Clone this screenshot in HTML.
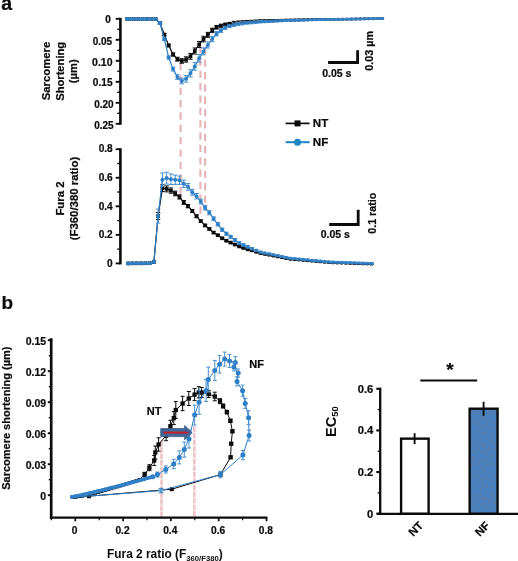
<!DOCTYPE html>
<html><head><meta charset="utf-8"><title>Figure</title>
<style>html,body{margin:0;padding:0;background:#fff}svg{display:block}</style>
</head><body>
<svg width="518" height="561" viewBox="0 0 518 561" style="font-family:&quot;Liberation Sans&quot;,sans-serif" fill="#0b0b0b">
<rect width="518" height="561" fill="#fff"/>
<text x="1.2" y="10.2" font-size="19.5" font-weight="bold" text-anchor="start" stroke="#0b0b0b" stroke-width="0.22" >a</text>
<text x="1.6" y="308.8" font-size="19" font-weight="bold" text-anchor="start" stroke="#0b0b0b" stroke-width="0.22" >b</text>
<line x1="180.60" y1="62.95" x2="180.60" y2="196.00" stroke="#e7b3b6" stroke-width="2.1" stroke-dasharray="7.3 5.05"/>
<line x1="200.40" y1="46.00" x2="200.40" y2="219.00" stroke="#e7b3b6" stroke-width="2.1" stroke-dasharray="7.3 5.05"/>
<line x1="205.05" y1="47.20" x2="205.05" y2="207.00" stroke="#e7b3b6" stroke-width="2.1" stroke-dasharray="7.3 5.05"/>
<line x1="120.40" y1="17.85" x2="120.40" y2="124.75" stroke="#0b0b0b" stroke-width="2.6" />
<line x1="115.70" y1="18.80" x2="120.40" y2="18.80" stroke="#0b0b0b" stroke-width="1.9" />
<line x1="117.30" y1="29.30" x2="120.40" y2="29.30" stroke="#0b0b0b" stroke-width="1.4" />
<text x="110.8" y="23.2" font-size="10.0" font-weight="bold" text-anchor="end" stroke="#0b0b0b" stroke-width="0.22" >0</text>
<line x1="115.70" y1="39.80" x2="120.40" y2="39.80" stroke="#0b0b0b" stroke-width="1.9" />
<line x1="117.30" y1="50.30" x2="120.40" y2="50.30" stroke="#0b0b0b" stroke-width="1.4" />
<text x="112.1" y="44.699999999999996" font-size="10.0" font-weight="bold" text-anchor="end" stroke="#0b0b0b" stroke-width="0.22" >0.05</text>
<line x1="115.70" y1="60.80" x2="120.40" y2="60.80" stroke="#0b0b0b" stroke-width="1.9" />
<line x1="117.30" y1="71.30" x2="120.40" y2="71.30" stroke="#0b0b0b" stroke-width="1.4" />
<text x="112.5" y="66.17999999999999" font-size="10.5" font-weight="bold" text-anchor="end" stroke="#0b0b0b" stroke-width="0.22" >0.10</text>
<line x1="115.70" y1="81.80" x2="120.40" y2="81.80" stroke="#0b0b0b" stroke-width="1.9" />
<line x1="117.30" y1="92.30" x2="120.40" y2="92.30" stroke="#0b0b0b" stroke-width="1.4" />
<text x="112.5" y="86.336" font-size="10.1" font-weight="bold" text-anchor="end" stroke="#0b0b0b" stroke-width="0.22" >0.15</text>
<line x1="115.70" y1="102.80" x2="120.40" y2="102.80" stroke="#0b0b0b" stroke-width="1.9" />
<line x1="117.30" y1="113.30" x2="120.40" y2="113.30" stroke="#0b0b0b" stroke-width="1.4" />
<text x="113.7" y="107.99999999999999" font-size="10.0" font-weight="bold" text-anchor="end" stroke="#0b0b0b" stroke-width="0.22" >0.20</text>
<line x1="115.70" y1="123.80" x2="120.40" y2="123.80" stroke="#0b0b0b" stroke-width="1.9" />
<text x="113.7" y="128.7" font-size="10.0" font-weight="bold" text-anchor="end" stroke="#0b0b0b" stroke-width="0.22" >0.25</text>
<text x="49.6" y="71.0" font-size="11.3" font-weight="bold" text-anchor="middle" transform="rotate(-90 49.6 71.0)" stroke="#0b0b0b" stroke-width="0.22" >Sarcomere</text>
<text x="64.3" y="71.3" font-size="11.2" font-weight="bold" text-anchor="middle" transform="rotate(-90 64.3 71.3)" stroke="#0b0b0b" stroke-width="0.22" >Shortening</text>
<text x="76.9" y="71.3" font-size="11.2" font-weight="bold" text-anchor="middle" transform="rotate(-90 76.9 71.3)" stroke="#0b0b0b" stroke-width="0.22" >(µm)</text>
<polyline points="127.30,19.00 129.55,19.00 133.90,19.00 138.25,19.00 142.60,19.00 146.95,19.00 151.30,19.00 155.65,19.05 160.00,23.10 164.35,34.58 168.70,45.50 173.05,54.50 177.40,59.17 181.75,60.98 186.10,59.47 190.45,56.34 194.80,51.00 199.15,44.51 203.50,39.10 207.85,34.85 212.20,30.31 216.55,27.30 220.90,25.70 225.25,24.50 229.60,23.72 233.95,23.06 238.30,22.60 242.65,22.21 247.00,21.87 251.35,21.58 255.70,21.29 260.05,21.00 264.40,20.86 268.75,20.72 273.10,20.58 277.45,20.44 281.80,20.30 286.15,20.18 290.50,20.09 294.85,20.00 299.20,19.92 303.55,19.83 307.90,19.74 312.25,19.66 316.60,19.57 320.95,19.49 325.30,19.43 329.65,19.36 334.00,19.30 338.35,19.24 342.70,19.18 347.05,19.12 351.40,19.06 355.75,19.00 360.10,18.94 364.45,18.87 368.80,18.81 373.15,18.75 377.50,18.69 381.85,18.63" fill="none" stroke="#0b0b0b" stroke-width="1.2" stroke-linejoin="round" />
<path d="M127.30 18.40V19.60M125.10 18.40H129.50M125.10 19.60H129.50" stroke="#0b0b0b" stroke-width="1.0" fill="none"/>
<rect x="125.45" y="17.15" width="3.7" height="3.7" fill="#0b0b0b"/>
<path d="M129.55 18.40V19.60M127.35 18.40H131.75M127.35 19.60H131.75" stroke="#0b0b0b" stroke-width="1.0" fill="none"/>
<rect x="127.70" y="17.15" width="3.7" height="3.7" fill="#0b0b0b"/>
<path d="M133.90 18.40V19.60M131.70 18.40H136.10M131.70 19.60H136.10" stroke="#0b0b0b" stroke-width="1.0" fill="none"/>
<rect x="132.05" y="17.15" width="3.7" height="3.7" fill="#0b0b0b"/>
<path d="M138.25 18.40V19.60M136.05 18.40H140.45M136.05 19.60H140.45" stroke="#0b0b0b" stroke-width="1.0" fill="none"/>
<rect x="136.40" y="17.15" width="3.7" height="3.7" fill="#0b0b0b"/>
<path d="M142.60 18.40V19.60M140.40 18.40H144.80M140.40 19.60H144.80" stroke="#0b0b0b" stroke-width="1.0" fill="none"/>
<rect x="140.75" y="17.15" width="3.7" height="3.7" fill="#0b0b0b"/>
<path d="M146.95 18.40V19.60M144.75 18.40H149.15M144.75 19.60H149.15" stroke="#0b0b0b" stroke-width="1.0" fill="none"/>
<rect x="145.10" y="17.15" width="3.7" height="3.7" fill="#0b0b0b"/>
<path d="M151.30 18.40V19.60M149.10 18.40H153.50M149.10 19.60H153.50" stroke="#0b0b0b" stroke-width="1.0" fill="none"/>
<rect x="149.45" y="17.15" width="3.7" height="3.7" fill="#0b0b0b"/>
<path d="M155.65 18.45V19.65M153.45 18.45H157.85M153.45 19.65H157.85" stroke="#0b0b0b" stroke-width="1.0" fill="none"/>
<rect x="153.80" y="17.20" width="3.7" height="3.7" fill="#0b0b0b"/>
<path d="M160.00 22.15V24.05M157.80 22.15H162.20M157.80 24.05H162.20" stroke="#0b0b0b" stroke-width="1.0" fill="none"/>
<rect x="158.15" y="21.25" width="3.7" height="3.7" fill="#0b0b0b"/>
<path d="M164.35 33.49V35.66M162.15 33.49H166.55M162.15 35.66H166.55" stroke="#0b0b0b" stroke-width="1.0" fill="none"/>
<rect x="162.50" y="32.73" width="3.7" height="3.7" fill="#0b0b0b"/>
<path d="M168.70 44.22V46.78M166.50 44.22H170.90M166.50 46.78H170.90" stroke="#0b0b0b" stroke-width="1.0" fill="none"/>
<rect x="166.85" y="43.65" width="3.7" height="3.7" fill="#0b0b0b"/>
<path d="M173.05 52.95V56.05M170.85 52.95H175.25M170.85 56.05H175.25" stroke="#0b0b0b" stroke-width="1.0" fill="none"/>
<rect x="171.20" y="52.65" width="3.7" height="3.7" fill="#0b0b0b"/>
<path d="M177.40 57.27V61.07M175.20 57.27H179.60M175.20 61.07H179.60" stroke="#0b0b0b" stroke-width="1.0" fill="none"/>
<rect x="175.55" y="57.32" width="3.7" height="3.7" fill="#0b0b0b"/>
<path d="M181.75 58.71V63.26M179.55 58.71H183.95M179.55 63.26H183.95" stroke="#0b0b0b" stroke-width="1.0" fill="none"/>
<rect x="179.90" y="59.13" width="3.7" height="3.7" fill="#0b0b0b"/>
<path d="M186.10 56.84V62.10M183.90 56.84H188.30M183.90 62.10H188.30" stroke="#0b0b0b" stroke-width="1.0" fill="none"/>
<rect x="184.25" y="57.62" width="3.7" height="3.7" fill="#0b0b0b"/>
<path d="M190.45 53.44V59.24M188.25 53.44H192.65M188.25 59.24H192.65" stroke="#0b0b0b" stroke-width="1.0" fill="none"/>
<rect x="188.60" y="54.49" width="3.7" height="3.7" fill="#0b0b0b"/>
<path d="M194.80 47.97V54.03M192.60 47.97H197.00M192.60 54.03H197.00" stroke="#0b0b0b" stroke-width="1.0" fill="none"/>
<rect x="192.95" y="49.15" width="3.7" height="3.7" fill="#0b0b0b"/>
<path d="M199.15 41.52V47.51M196.95 41.52H201.35M196.95 47.51H201.35" stroke="#0b0b0b" stroke-width="1.0" fill="none"/>
<rect x="197.30" y="42.66" width="3.7" height="3.7" fill="#0b0b0b"/>
<path d="M203.50 36.31V41.90M201.30 36.31H205.70M201.30 41.90H205.70" stroke="#0b0b0b" stroke-width="1.0" fill="none"/>
<rect x="201.65" y="37.25" width="3.7" height="3.7" fill="#0b0b0b"/>
<path d="M207.85 32.37V37.32M205.65 32.37H210.05M205.65 37.32H210.05" stroke="#0b0b0b" stroke-width="1.0" fill="none"/>
<rect x="206.00" y="33.00" width="3.7" height="3.7" fill="#0b0b0b"/>
<path d="M212.20 28.21V32.42M210.00 28.21H214.40M210.00 32.42H214.40" stroke="#0b0b0b" stroke-width="1.0" fill="none"/>
<rect x="210.35" y="28.46" width="3.7" height="3.7" fill="#0b0b0b"/>
<path d="M216.55 25.56V29.04M214.35 25.56H218.75M214.35 29.04H218.75" stroke="#0b0b0b" stroke-width="1.0" fill="none"/>
<rect x="214.70" y="25.45" width="3.7" height="3.7" fill="#0b0b0b"/>
<path d="M220.90 24.28V27.12M218.70 24.28H223.10M218.70 27.12H223.10" stroke="#0b0b0b" stroke-width="1.0" fill="none"/>
<rect x="219.05" y="23.85" width="3.7" height="3.7" fill="#0b0b0b"/>
<path d="M225.25 23.32V25.68M223.05 23.32H227.45M223.05 25.68H227.45" stroke="#0b0b0b" stroke-width="1.0" fill="none"/>
<rect x="223.40" y="22.65" width="3.7" height="3.7" fill="#0b0b0b"/>
<path d="M229.60 22.70V24.73M227.40 22.70H231.80M227.40 24.73H231.80" stroke="#0b0b0b" stroke-width="1.0" fill="none"/>
<rect x="227.75" y="21.87" width="3.7" height="3.7" fill="#0b0b0b"/>
<path d="M233.95 21.37V24.75M231.75 21.37H236.15M231.75 24.75H236.15" stroke="#0b0b0b" stroke-width="1.0" fill="none"/>
<rect x="232.65" y="21.76" width="2.6" height="2.6" fill="#0b0b0b"/>
<path d="M238.30 21.03V24.18M236.10 21.03H240.50M236.10 24.18H240.50" stroke="#0b0b0b" stroke-width="1.0" fill="none"/>
<rect x="237.00" y="21.30" width="2.6" height="2.6" fill="#0b0b0b"/>
<path d="M242.65 20.74V23.69M240.45 20.74H244.85M240.45 23.69H244.85" stroke="#0b0b0b" stroke-width="1.0" fill="none"/>
<rect x="241.35" y="20.91" width="2.6" height="2.6" fill="#0b0b0b"/>
<path d="M247.00 20.48V23.25M244.80 20.48H249.20M244.80 23.25H249.20" stroke="#0b0b0b" stroke-width="1.0" fill="none"/>
<rect x="245.70" y="20.57" width="2.6" height="2.6" fill="#0b0b0b"/>
<path d="M251.35 20.27V22.88M249.15 20.27H253.55M249.15 22.88H253.55" stroke="#0b0b0b" stroke-width="1.0" fill="none"/>
<rect x="250.05" y="20.28" width="2.6" height="2.6" fill="#0b0b0b"/>
<path d="M255.70 20.06V22.52M253.50 20.06H257.90M253.50 22.52H257.90" stroke="#0b0b0b" stroke-width="1.0" fill="none"/>
<rect x="254.40" y="19.99" width="2.6" height="2.6" fill="#0b0b0b"/>
<path d="M260.05 19.83V22.16M257.85 19.83H262.25M257.85 22.16H262.25" stroke="#0b0b0b" stroke-width="1.0" fill="none"/>
<rect x="258.75" y="19.70" width="2.6" height="2.6" fill="#0b0b0b"/>
<path d="M264.40 19.75V21.97M262.20 19.75H266.60M262.20 21.97H266.60" stroke="#0b0b0b" stroke-width="1.0" fill="none"/>
<rect x="263.10" y="19.56" width="2.6" height="2.6" fill="#0b0b0b"/>
<path d="M268.75 19.66V21.78M266.55 19.66H270.95M266.55 21.78H270.95" stroke="#0b0b0b" stroke-width="1.0" fill="none"/>
<rect x="267.45" y="19.42" width="2.6" height="2.6" fill="#0b0b0b"/>
<path d="M273.10 19.57V21.59M270.90 19.57H275.30M270.90 21.59H275.30" stroke="#0b0b0b" stroke-width="1.0" fill="none"/>
<rect x="271.80" y="19.28" width="2.6" height="2.6" fill="#0b0b0b"/>
<path d="M277.45 19.48V21.41M275.25 19.48H279.65M275.25 21.41H279.65" stroke="#0b0b0b" stroke-width="1.0" fill="none"/>
<rect x="276.15" y="19.14" width="2.6" height="2.6" fill="#0b0b0b"/>
<path d="M281.80 19.37V21.23M279.60 19.37H284.00M279.60 21.23H284.00" stroke="#0b0b0b" stroke-width="1.0" fill="none"/>
<rect x="280.50" y="19.00" width="2.6" height="2.6" fill="#0b0b0b"/>
<path d="M286.15 19.28V21.07M283.95 19.28H288.35M283.95 21.07H288.35" stroke="#0b0b0b" stroke-width="1.0" fill="none"/>
<rect x="284.85" y="18.88" width="2.6" height="2.6" fill="#0b0b0b"/>
<path d="M290.50 19.23V20.95M288.30 19.23H292.70M288.30 20.95H292.70" stroke="#0b0b0b" stroke-width="1.0" fill="none"/>
<rect x="289.20" y="18.79" width="2.6" height="2.6" fill="#0b0b0b"/>
<path d="M294.85 19.17V20.84M292.65 19.17H297.05M292.65 20.84H297.05" stroke="#0b0b0b" stroke-width="1.0" fill="none"/>
<rect x="293.55" y="18.70" width="2.6" height="2.6" fill="#0b0b0b"/>
<path d="M299.20 19.10V20.73M297.00 19.10H301.40M297.00 20.73H301.40" stroke="#0b0b0b" stroke-width="1.0" fill="none"/>
<rect x="297.90" y="18.62" width="2.6" height="2.6" fill="#0b0b0b"/>
<path d="M303.55 19.04V20.62M301.35 19.04H305.75M301.35 20.62H305.75" stroke="#0b0b0b" stroke-width="1.0" fill="none"/>
<rect x="302.25" y="18.53" width="2.6" height="2.6" fill="#0b0b0b"/>
<path d="M307.90 18.97V20.51M305.70 18.97H310.10M305.70 20.51H310.10" stroke="#0b0b0b" stroke-width="1.0" fill="none"/>
<rect x="306.60" y="18.44" width="2.6" height="2.6" fill="#0b0b0b"/>
<path d="M312.25 18.90V20.41M310.05 18.90H314.45M310.05 20.41H314.45" stroke="#0b0b0b" stroke-width="1.0" fill="none"/>
<rect x="310.95" y="18.36" width="2.6" height="2.6" fill="#0b0b0b"/>
<path d="M316.60 18.83V20.31M314.40 18.83H318.80M314.40 20.31H318.80" stroke="#0b0b0b" stroke-width="1.0" fill="none"/>
<rect x="315.30" y="18.27" width="2.6" height="2.6" fill="#0b0b0b"/>
<path d="M320.95 18.76V20.21M318.75 18.76H323.15M318.75 20.21H323.15" stroke="#0b0b0b" stroke-width="1.0" fill="none"/>
<rect x="319.65" y="18.19" width="2.6" height="2.6" fill="#0b0b0b"/>
<path d="M325.30 18.71V20.14M323.10 18.71H327.50M323.10 20.14H327.50" stroke="#0b0b0b" stroke-width="1.0" fill="none"/>
<rect x="324.00" y="18.13" width="2.6" height="2.6" fill="#0b0b0b"/>
<path d="M329.65 18.66V20.06M327.45 18.66H331.85M327.45 20.06H331.85" stroke="#0b0b0b" stroke-width="1.0" fill="none"/>
<rect x="328.35" y="18.06" width="2.6" height="2.6" fill="#0b0b0b"/>
<path d="M334.00 18.61V19.99M331.80 18.61H336.20M331.80 19.99H336.20" stroke="#0b0b0b" stroke-width="1.0" fill="none"/>
<rect x="332.70" y="18.00" width="2.6" height="2.6" fill="#0b0b0b"/>
<path d="M338.35 18.56V19.92M336.15 18.56H340.55M336.15 19.92H340.55" stroke="#0b0b0b" stroke-width="1.0" fill="none"/>
<rect x="337.05" y="17.94" width="2.6" height="2.6" fill="#0b0b0b"/>
<path d="M342.70 18.51V19.85M340.50 18.51H344.90M340.50 19.85H344.90" stroke="#0b0b0b" stroke-width="1.0" fill="none"/>
<rect x="341.40" y="17.88" width="2.6" height="2.6" fill="#0b0b0b"/>
<path d="M347.05 18.46V19.78M344.85 18.46H349.25M344.85 19.78H349.25" stroke="#0b0b0b" stroke-width="1.0" fill="none"/>
<rect x="345.75" y="17.82" width="2.6" height="2.6" fill="#0b0b0b"/>
<path d="M351.40 18.40V19.72M349.20 18.40H353.60M349.20 19.72H353.60" stroke="#0b0b0b" stroke-width="1.0" fill="none"/>
<rect x="350.10" y="17.76" width="2.6" height="2.6" fill="#0b0b0b"/>
<path d="M355.75 18.35V19.65M353.55 18.35H357.95M353.55 19.65H357.95" stroke="#0b0b0b" stroke-width="1.0" fill="none"/>
<rect x="354.45" y="17.70" width="2.6" height="2.6" fill="#0b0b0b"/>
<path d="M360.10 18.29V19.58M357.90 18.29H362.30M357.90 19.58H362.30" stroke="#0b0b0b" stroke-width="1.0" fill="none"/>
<rect x="358.80" y="17.64" width="2.6" height="2.6" fill="#0b0b0b"/>
<path d="M364.45 18.23V19.52M362.25 18.23H366.65M362.25 19.52H366.65" stroke="#0b0b0b" stroke-width="1.0" fill="none"/>
<rect x="363.15" y="17.57" width="2.6" height="2.6" fill="#0b0b0b"/>
<path d="M368.80 18.18V19.45M366.60 18.18H371.00M366.60 19.45H371.00" stroke="#0b0b0b" stroke-width="1.0" fill="none"/>
<rect x="367.50" y="17.51" width="2.6" height="2.6" fill="#0b0b0b"/>
<path d="M373.15 18.12V19.39M370.95 18.12H375.35M370.95 19.39H375.35" stroke="#0b0b0b" stroke-width="1.0" fill="none"/>
<rect x="371.85" y="17.45" width="2.6" height="2.6" fill="#0b0b0b"/>
<path d="M377.50 18.06V19.32M375.30 18.06H379.70M375.30 19.32H379.70" stroke="#0b0b0b" stroke-width="1.0" fill="none"/>
<rect x="376.20" y="17.39" width="2.6" height="2.6" fill="#0b0b0b"/>
<path d="M381.85 18.00V19.26M379.65 18.00H384.05M379.65 19.26H384.05" stroke="#0b0b0b" stroke-width="1.0" fill="none"/>
<rect x="380.55" y="17.33" width="2.6" height="2.6" fill="#0b0b0b"/>
<polyline points="127.30,19.00 129.55,19.00 133.90,19.00 138.25,19.00 142.60,19.00 146.95,19.00 151.30,19.00 155.65,19.05 160.00,23.00 164.35,39.24 168.70,57.53 173.05,69.10 177.40,77.02 181.75,80.97 186.10,78.80 190.45,73.36 194.80,66.40 199.15,58.36 203.50,51.40 207.85,44.92 212.20,39.01 216.55,33.74 220.90,30.60 225.25,27.75 229.60,26.11 233.95,24.89 238.30,24.07 242.65,23.38 247.00,22.84 251.35,22.49 255.70,22.14 260.05,21.80 264.40,21.59 268.75,21.38 273.10,21.17 277.45,20.96 281.80,20.75 286.15,20.57 290.50,20.44 294.85,20.32 299.20,20.19 303.55,20.07 307.90,19.95 312.25,19.82 316.60,19.70 320.95,19.58 325.30,19.51 329.65,19.43 334.00,19.36 338.35,19.28 342.70,19.21 347.05,19.14 351.40,19.06 355.75,18.99 360.10,18.91 364.45,18.84 368.80,18.76 373.15,18.69 377.50,18.61 381.85,18.54" fill="none" stroke="#2f7fc6" stroke-width="1.2" stroke-linejoin="round" />
<path d="M127.30 18.40V19.60M125.00 18.40H129.60M125.00 19.60H129.60" stroke="#4890d0" stroke-width="1.0" fill="none"/>
<circle cx="127.30" cy="19.00" r="2.0" fill="#2f7fc6"/>
<path d="M129.55 18.40V19.60M127.25 18.40H131.85M127.25 19.60H131.85" stroke="#4890d0" stroke-width="1.0" fill="none"/>
<circle cx="129.55" cy="19.00" r="2.0" fill="#2f7fc6"/>
<path d="M133.90 18.40V19.60M131.60 18.40H136.20M131.60 19.60H136.20" stroke="#4890d0" stroke-width="1.0" fill="none"/>
<circle cx="133.90" cy="19.00" r="2.0" fill="#2f7fc6"/>
<path d="M138.25 18.40V19.60M135.95 18.40H140.55M135.95 19.60H140.55" stroke="#4890d0" stroke-width="1.0" fill="none"/>
<circle cx="138.25" cy="19.00" r="2.0" fill="#2f7fc6"/>
<path d="M142.60 18.40V19.60M140.30 18.40H144.90M140.30 19.60H144.90" stroke="#4890d0" stroke-width="1.0" fill="none"/>
<circle cx="142.60" cy="19.00" r="2.0" fill="#2f7fc6"/>
<path d="M146.95 18.40V19.60M144.65 18.40H149.25M144.65 19.60H149.25" stroke="#4890d0" stroke-width="1.0" fill="none"/>
<circle cx="146.95" cy="19.00" r="2.0" fill="#2f7fc6"/>
<path d="M151.30 18.40V19.60M149.00 18.40H153.60M149.00 19.60H153.60" stroke="#4890d0" stroke-width="1.0" fill="none"/>
<circle cx="151.30" cy="19.00" r="2.0" fill="#2f7fc6"/>
<path d="M155.65 18.45V19.65M153.35 18.45H157.95M153.35 19.65H157.95" stroke="#4890d0" stroke-width="1.0" fill="none"/>
<circle cx="155.65" cy="19.05" r="2.0" fill="#2f7fc6"/>
<path d="M160.00 21.81V24.19M157.70 21.81H162.30M157.70 24.19H162.30" stroke="#4890d0" stroke-width="1.0" fill="none"/>
<circle cx="160.00" cy="23.00" r="2.0" fill="#2f7fc6"/>
<path d="M164.35 37.89V40.60M162.05 37.89H166.65M162.05 40.60H166.65" stroke="#4890d0" stroke-width="1.0" fill="none"/>
<circle cx="164.35" cy="39.24" r="2.0" fill="#2f7fc6"/>
<path d="M168.70 55.93V59.13M166.40 55.93H171.00M166.40 59.13H171.00" stroke="#4890d0" stroke-width="1.0" fill="none"/>
<circle cx="168.70" cy="57.53" r="2.0" fill="#2f7fc6"/>
<path d="M173.05 67.16V71.04M170.75 67.16H175.35M170.75 71.04H175.35" stroke="#4890d0" stroke-width="1.0" fill="none"/>
<circle cx="173.05" cy="69.10" r="2.0" fill="#2f7fc6"/>
<path d="M177.40 74.65V79.39M175.10 74.65H179.70M175.10 79.39H179.70" stroke="#4890d0" stroke-width="1.0" fill="none"/>
<circle cx="177.40" cy="77.02" r="2.0" fill="#2f7fc6"/>
<path d="M181.75 78.13V83.82M179.45 78.13H184.05M179.45 83.82H184.05" stroke="#4890d0" stroke-width="1.0" fill="none"/>
<circle cx="181.75" cy="80.97" r="2.0" fill="#2f7fc6"/>
<path d="M186.10 75.51V82.09M183.80 75.51H188.40M183.80 82.09H188.40" stroke="#4890d0" stroke-width="1.0" fill="none"/>
<circle cx="186.10" cy="78.80" r="2.0" fill="#2f7fc6"/>
<path d="M190.45 69.74V76.99M188.15 69.74H192.75M188.15 76.99H192.75" stroke="#4890d0" stroke-width="1.0" fill="none"/>
<circle cx="190.45" cy="73.36" r="2.0" fill="#2f7fc6"/>
<path d="M194.80 62.61V70.19M192.50 62.61H197.10M192.50 70.19H197.10" stroke="#4890d0" stroke-width="1.0" fill="none"/>
<circle cx="194.80" cy="66.40" r="2.0" fill="#2f7fc6"/>
<path d="M199.15 54.62V62.10M196.85 54.62H201.45M196.85 62.10H201.45" stroke="#4890d0" stroke-width="1.0" fill="none"/>
<circle cx="199.15" cy="58.36" r="2.0" fill="#2f7fc6"/>
<path d="M203.50 47.91V54.89M201.20 47.91H205.80M201.20 54.89H205.80" stroke="#4890d0" stroke-width="1.0" fill="none"/>
<circle cx="203.50" cy="51.40" r="2.0" fill="#2f7fc6"/>
<path d="M207.85 41.83V48.02M205.55 41.83H210.15M205.55 48.02H210.15" stroke="#4890d0" stroke-width="1.0" fill="none"/>
<circle cx="207.85" cy="44.92" r="2.0" fill="#2f7fc6"/>
<path d="M212.20 36.38V41.63M209.90 36.38H214.50M209.90 41.63H214.50" stroke="#4890d0" stroke-width="1.0" fill="none"/>
<circle cx="212.20" cy="39.01" r="2.0" fill="#2f7fc6"/>
<path d="M216.55 31.57V35.91M214.25 31.57H218.85M214.25 35.91H218.85" stroke="#4890d0" stroke-width="1.0" fill="none"/>
<circle cx="216.55" cy="33.74" r="2.0" fill="#2f7fc6"/>
<path d="M220.90 28.82V32.38M218.60 28.82H223.20M218.60 32.38H223.20" stroke="#4890d0" stroke-width="1.0" fill="none"/>
<circle cx="220.90" cy="30.60" r="2.0" fill="#2f7fc6"/>
<path d="M225.25 26.27V29.23M222.95 26.27H227.55M222.95 29.23H227.55" stroke="#4890d0" stroke-width="1.0" fill="none"/>
<circle cx="225.25" cy="27.75" r="2.0" fill="#2f7fc6"/>
<path d="M229.60 24.84V27.38M227.30 24.84H231.90M227.30 27.38H231.90" stroke="#4890d0" stroke-width="1.0" fill="none"/>
<circle cx="229.60" cy="26.11" r="2.0" fill="#2f7fc6"/>
<path d="M233.95 23.21V26.58M231.65 23.21H236.25M231.65 26.58H236.25" stroke="#4890d0" stroke-width="1.0" fill="none"/>
<circle cx="233.95" cy="24.89" r="1.5" fill="#2f7fc6"/>
<path d="M238.30 22.50V25.65M236.00 22.50H240.60M236.00 25.65H240.60" stroke="#4890d0" stroke-width="1.0" fill="none"/>
<circle cx="238.30" cy="24.07" r="1.5" fill="#2f7fc6"/>
<path d="M242.65 21.90V24.85M240.35 21.90H244.95M240.35 24.85H244.95" stroke="#4890d0" stroke-width="1.0" fill="none"/>
<circle cx="242.65" cy="23.38" r="1.5" fill="#2f7fc6"/>
<path d="M247.00 21.46V24.22M244.70 21.46H249.30M244.70 24.22H249.30" stroke="#4890d0" stroke-width="1.0" fill="none"/>
<circle cx="247.00" cy="22.84" r="1.5" fill="#2f7fc6"/>
<path d="M251.35 21.19V23.80M249.05 21.19H253.65M249.05 23.80H253.65" stroke="#4890d0" stroke-width="1.0" fill="none"/>
<circle cx="251.35" cy="22.49" r="1.5" fill="#2f7fc6"/>
<path d="M255.70 20.91V23.38M253.40 20.91H258.00M253.40 23.38H258.00" stroke="#4890d0" stroke-width="1.0" fill="none"/>
<circle cx="255.70" cy="22.14" r="1.5" fill="#2f7fc6"/>
<path d="M260.05 20.63V22.96M257.75 20.63H262.35M257.75 22.96H262.35" stroke="#4890d0" stroke-width="1.0" fill="none"/>
<circle cx="260.05" cy="21.80" r="1.5" fill="#2f7fc6"/>
<path d="M264.40 20.48V22.70M262.10 20.48H266.70M262.10 22.70H266.70" stroke="#4890d0" stroke-width="1.0" fill="none"/>
<circle cx="264.40" cy="21.59" r="1.5" fill="#2f7fc6"/>
<path d="M268.75 20.32V22.44M266.45 20.32H271.05M266.45 22.44H271.05" stroke="#4890d0" stroke-width="1.0" fill="none"/>
<circle cx="268.75" cy="21.38" r="1.5" fill="#2f7fc6"/>
<path d="M273.10 20.16V22.18M270.80 20.16H275.40M270.80 22.18H275.40" stroke="#4890d0" stroke-width="1.0" fill="none"/>
<circle cx="273.10" cy="21.17" r="1.5" fill="#2f7fc6"/>
<path d="M277.45 20.00V21.93M275.15 20.00H279.75M275.15 21.93H279.75" stroke="#4890d0" stroke-width="1.0" fill="none"/>
<circle cx="277.45" cy="20.96" r="1.5" fill="#2f7fc6"/>
<path d="M281.80 19.82V21.68M279.50 19.82H284.10M279.50 21.68H284.10" stroke="#4890d0" stroke-width="1.0" fill="none"/>
<circle cx="281.80" cy="20.75" r="1.5" fill="#2f7fc6"/>
<path d="M286.15 19.67V21.46M283.85 19.67H288.45M283.85 21.46H288.45" stroke="#4890d0" stroke-width="1.0" fill="none"/>
<circle cx="286.15" cy="20.57" r="1.5" fill="#2f7fc6"/>
<path d="M290.50 19.58V21.31M288.20 19.58H292.80M288.20 21.31H292.80" stroke="#4890d0" stroke-width="1.0" fill="none"/>
<circle cx="290.50" cy="20.44" r="1.5" fill="#2f7fc6"/>
<path d="M294.85 19.48V21.16M292.55 19.48H297.15M292.55 21.16H297.15" stroke="#4890d0" stroke-width="1.0" fill="none"/>
<circle cx="294.85" cy="20.32" r="1.5" fill="#2f7fc6"/>
<path d="M299.20 19.38V21.01M296.90 19.38H301.50M296.90 21.01H301.50" stroke="#4890d0" stroke-width="1.0" fill="none"/>
<circle cx="299.20" cy="20.19" r="1.5" fill="#2f7fc6"/>
<path d="M303.55 19.28V20.86M301.25 19.28H305.85M301.25 20.86H305.85" stroke="#4890d0" stroke-width="1.0" fill="none"/>
<circle cx="303.55" cy="20.07" r="1.5" fill="#2f7fc6"/>
<path d="M307.90 19.17V20.72M305.60 19.17H310.20M305.60 20.72H310.20" stroke="#4890d0" stroke-width="1.0" fill="none"/>
<circle cx="307.90" cy="19.95" r="1.5" fill="#2f7fc6"/>
<path d="M312.25 19.07V20.57M309.95 19.07H314.55M309.95 20.57H314.55" stroke="#4890d0" stroke-width="1.0" fill="none"/>
<circle cx="312.25" cy="19.82" r="1.5" fill="#2f7fc6"/>
<path d="M316.60 18.96V20.43M314.30 18.96H318.90M314.30 20.43H318.90" stroke="#4890d0" stroke-width="1.0" fill="none"/>
<circle cx="316.60" cy="19.70" r="1.5" fill="#2f7fc6"/>
<path d="M320.95 18.86V20.31M318.65 18.86H323.25M318.65 20.31H323.25" stroke="#4890d0" stroke-width="1.0" fill="none"/>
<circle cx="320.95" cy="19.58" r="1.5" fill="#2f7fc6"/>
<path d="M325.30 18.80V20.22M323.00 18.80H327.60M323.00 20.22H327.60" stroke="#4890d0" stroke-width="1.0" fill="none"/>
<circle cx="325.30" cy="19.51" r="1.5" fill="#2f7fc6"/>
<path d="M329.65 18.73V20.13M327.35 18.73H331.95M327.35 20.13H331.95" stroke="#4890d0" stroke-width="1.0" fill="none"/>
<circle cx="329.65" cy="19.43" r="1.5" fill="#2f7fc6"/>
<path d="M334.00 18.67V20.05M331.70 18.67H336.30M331.70 20.05H336.30" stroke="#4890d0" stroke-width="1.0" fill="none"/>
<circle cx="334.00" cy="19.36" r="1.5" fill="#2f7fc6"/>
<path d="M338.35 18.60V19.96M336.05 18.60H340.65M336.05 19.96H340.65" stroke="#4890d0" stroke-width="1.0" fill="none"/>
<circle cx="338.35" cy="19.28" r="1.5" fill="#2f7fc6"/>
<path d="M342.70 18.54V19.88M340.40 18.54H345.00M340.40 19.88H345.00" stroke="#4890d0" stroke-width="1.0" fill="none"/>
<circle cx="342.70" cy="19.21" r="1.5" fill="#2f7fc6"/>
<path d="M347.05 18.47V19.80M344.75 18.47H349.35M344.75 19.80H349.35" stroke="#4890d0" stroke-width="1.0" fill="none"/>
<circle cx="347.05" cy="19.14" r="1.5" fill="#2f7fc6"/>
<path d="M351.40 18.40V19.72M349.10 18.40H353.70M349.10 19.72H353.70" stroke="#4890d0" stroke-width="1.0" fill="none"/>
<circle cx="351.40" cy="19.06" r="1.5" fill="#2f7fc6"/>
<path d="M355.75 18.33V19.64M353.45 18.33H358.05M353.45 19.64H358.05" stroke="#4890d0" stroke-width="1.0" fill="none"/>
<circle cx="355.75" cy="18.99" r="1.5" fill="#2f7fc6"/>
<path d="M360.10 18.26V19.56M357.80 18.26H362.40M357.80 19.56H362.40" stroke="#4890d0" stroke-width="1.0" fill="none"/>
<circle cx="360.10" cy="18.91" r="1.5" fill="#2f7fc6"/>
<path d="M364.45 18.19V19.48M362.15 18.19H366.75M362.15 19.48H366.75" stroke="#4890d0" stroke-width="1.0" fill="none"/>
<circle cx="364.45" cy="18.84" r="1.5" fill="#2f7fc6"/>
<path d="M368.80 18.12V19.40M366.50 18.12H371.10M366.50 19.40H371.10" stroke="#4890d0" stroke-width="1.0" fill="none"/>
<circle cx="368.80" cy="18.76" r="1.5" fill="#2f7fc6"/>
<path d="M373.15 18.05V19.32M370.85 18.05H375.45M370.85 19.32H375.45" stroke="#4890d0" stroke-width="1.0" fill="none"/>
<circle cx="373.15" cy="18.69" r="1.5" fill="#2f7fc6"/>
<path d="M377.50 17.98V19.24M375.20 17.98H379.80M375.20 19.24H379.80" stroke="#4890d0" stroke-width="1.0" fill="none"/>
<circle cx="377.50" cy="18.61" r="1.5" fill="#2f7fc6"/>
<path d="M381.85 17.91V19.16M379.55 17.91H384.15M379.55 19.16H384.15" stroke="#4890d0" stroke-width="1.0" fill="none"/>
<circle cx="381.85" cy="18.54" r="1.5" fill="#2f7fc6"/>
<path d="M328.1 62.5H357.6V50.2" fill="none" stroke="#0b0b0b" stroke-width="2.8"/>
<text x="322.2" y="76.9" font-size="10.5" font-weight="bold" text-anchor="start" stroke="#0b0b0b" stroke-width="0.22" >0.05 s</text>
<text x="373.3" y="50.8" font-size="10.8" font-weight="bold" text-anchor="middle" transform="rotate(-90 373.3 50.8)" stroke="#0b0b0b" stroke-width="0.22" >0.03 µm</text>
<line x1="285.60" y1="123.40" x2="309.60" y2="123.40" stroke="#0b0b0b" stroke-width="1.7" />
<rect x="294.50" y="120.40" width="6.0" height="6.0" fill="#0b0b0b"/>
<text x="312.8" y="127.3" font-size="11.6" font-weight="bold" text-anchor="start" stroke="#0b0b0b" stroke-width="0.22" >NT</text>
<line x1="285.60" y1="142.20" x2="309.60" y2="142.20" stroke="#1b84c4" stroke-width="2.0" />
<circle cx="297.50" cy="142.20" r="3.5" fill="#1b84c4"/>
<text x="312.8" y="146.2" font-size="11.6" font-weight="bold" text-anchor="start" stroke="#0b0b0b" stroke-width="0.22" >NF</text>
<line x1="120.40" y1="148.25" x2="120.40" y2="264.35" stroke="#0b0b0b" stroke-width="2.6" />
<line x1="115.70" y1="149.20" x2="120.40" y2="149.20" stroke="#0b0b0b" stroke-width="1.9" />
<line x1="117.30" y1="163.47" x2="120.40" y2="163.47" stroke="#0b0b0b" stroke-width="1.4" />
<text x="112.7" y="152.39999999999998" font-size="10.1" font-weight="bold" text-anchor="end" stroke="#0b0b0b" stroke-width="0.22" >0.8</text>
<line x1="115.70" y1="177.75" x2="120.40" y2="177.75" stroke="#0b0b0b" stroke-width="1.9" />
<line x1="117.30" y1="192.03" x2="120.40" y2="192.03" stroke="#0b0b0b" stroke-width="1.4" />
<text x="112.7" y="180.95" font-size="10.1" font-weight="bold" text-anchor="end" stroke="#0b0b0b" stroke-width="0.22" >0.6</text>
<line x1="115.70" y1="206.30" x2="120.40" y2="206.30" stroke="#0b0b0b" stroke-width="1.9" />
<line x1="117.30" y1="220.57" x2="120.40" y2="220.57" stroke="#0b0b0b" stroke-width="1.4" />
<text x="112.7" y="209.49999999999997" font-size="10.1" font-weight="bold" text-anchor="end" stroke="#0b0b0b" stroke-width="0.22" >0.4</text>
<line x1="115.70" y1="234.85" x2="120.40" y2="234.85" stroke="#0b0b0b" stroke-width="1.9" />
<line x1="117.30" y1="249.12" x2="120.40" y2="249.12" stroke="#0b0b0b" stroke-width="1.4" />
<text x="112.7" y="238.04999999999998" font-size="10.1" font-weight="bold" text-anchor="end" stroke="#0b0b0b" stroke-width="0.22" >0.2</text>
<line x1="115.70" y1="263.40" x2="120.40" y2="263.40" stroke="#0b0b0b" stroke-width="1.9" />
<text x="112.7" y="266.59999999999997" font-size="10.1" font-weight="bold" text-anchor="end" stroke="#0b0b0b" stroke-width="0.22" >0</text>
<text x="63.5" y="198.5" font-size="11.4" font-weight="bold" text-anchor="middle" transform="rotate(-90 63.5 198.5)" stroke="#0b0b0b" stroke-width="0.22" >Fura 2</text>
<text x="78.3" y="198.5" font-size="11.4" font-weight="bold" text-anchor="middle" transform="rotate(-90 78.3 198.5)" stroke="#0b0b0b" stroke-width="0.22" >(F360/380 ratio)</text>
<polyline points="128.26,263.38 132.53,263.34 136.80,263.31 141.06,263.27 145.33,263.24 149.60,263.17 153.87,262.00 158.13,216.08 162.40,188.20 166.67,188.89 170.93,190.59 175.20,193.49 179.47,196.93 183.74,202.45 188.00,206.13 192.27,210.94 196.54,216.27 200.80,221.17 205.07,225.42 209.34,228.96 213.60,232.60 217.87,235.22 222.14,238.28 226.41,240.70 230.67,242.62 234.94,244.53 239.21,246.44 243.47,247.95 247.74,249.35 252.01,250.76 256.27,252.17 260.54,253.50 264.81,254.33 269.08,255.15 273.34,255.98 277.61,256.80 281.88,257.63 286.14,258.45 290.41,259.24 294.68,259.61 298.94,259.98 303.21,260.36 307.48,260.73 311.75,261.10 316.01,261.48 320.28,261.85 324.55,262.22 328.81,262.60 333.08,262.81 337.35,262.95 341.61,263.10 345.88,263.24 350.15,263.39 354.42,263.53 358.68,263.68 362.95,263.82 367.22,263.97 371.48,264.11" fill="none" stroke="#0b0b0b" stroke-width="1.2" stroke-linejoin="round" />
<path d="M128.26 262.68V264.08M126.06 262.68H130.46M126.06 264.08H130.46" stroke="#0b0b0b" stroke-width="1.0" fill="none"/>
<rect x="126.41" y="261.53" width="3.7" height="3.7" fill="#0b0b0b"/>
<path d="M132.53 262.64V264.04M130.33 262.64H134.73M130.33 264.04H134.73" stroke="#0b0b0b" stroke-width="1.0" fill="none"/>
<rect x="130.68" y="261.49" width="3.7" height="3.7" fill="#0b0b0b"/>
<path d="M136.80 262.61V264.01M134.60 262.61H139.00M134.60 264.01H139.00" stroke="#0b0b0b" stroke-width="1.0" fill="none"/>
<rect x="134.95" y="261.46" width="3.7" height="3.7" fill="#0b0b0b"/>
<path d="M141.06 262.57V263.97M138.87 262.57H143.26M138.87 263.97H143.26" stroke="#0b0b0b" stroke-width="1.0" fill="none"/>
<rect x="139.22" y="261.42" width="3.7" height="3.7" fill="#0b0b0b"/>
<path d="M145.33 262.54V263.94M143.13 262.54H147.53M143.13 263.94H147.53" stroke="#0b0b0b" stroke-width="1.0" fill="none"/>
<rect x="143.48" y="261.39" width="3.7" height="3.7" fill="#0b0b0b"/>
<path d="M149.60 262.47V263.87M147.40 262.47H151.80M147.40 263.87H151.80" stroke="#0b0b0b" stroke-width="1.0" fill="none"/>
<rect x="147.75" y="261.32" width="3.7" height="3.7" fill="#0b0b0b"/>
<path d="M153.87 261.30V262.70M151.67 261.30H156.07M151.67 262.70H156.07" stroke="#0b0b0b" stroke-width="1.0" fill="none"/>
<rect x="152.02" y="260.15" width="3.7" height="3.7" fill="#0b0b0b"/>
<path d="M158.13 212.58V219.58M155.93 212.58H160.33M155.93 219.58H160.33" stroke="#0b0b0b" stroke-width="1.0" fill="none"/>
<rect x="156.28" y="214.23" width="3.7" height="3.7" fill="#0b0b0b"/>
<path d="M162.40 184.84V191.56M160.20 184.84H164.60M160.20 191.56H164.60" stroke="#0b0b0b" stroke-width="1.0" fill="none"/>
<rect x="160.55" y="186.35" width="3.7" height="3.7" fill="#0b0b0b"/>
<path d="M166.67 185.93V191.86M164.47 185.93H168.87M164.47 191.86H168.87" stroke="#0b0b0b" stroke-width="1.0" fill="none"/>
<rect x="164.82" y="187.04" width="3.7" height="3.7" fill="#0b0b0b"/>
<path d="M170.93 187.96V193.22M168.73 187.96H173.13M168.73 193.22H173.13" stroke="#0b0b0b" stroke-width="1.0" fill="none"/>
<rect x="169.08" y="188.74" width="3.7" height="3.7" fill="#0b0b0b"/>
<path d="M175.20 191.16V195.82M173.00 191.16H177.40M173.00 195.82H177.40" stroke="#0b0b0b" stroke-width="1.0" fill="none"/>
<rect x="173.35" y="191.64" width="3.7" height="3.7" fill="#0b0b0b"/>
<path d="M179.47 194.85V199.00M177.27 194.85H181.67M177.27 199.00H181.67" stroke="#0b0b0b" stroke-width="1.0" fill="none"/>
<rect x="177.62" y="195.08" width="3.7" height="3.7" fill="#0b0b0b"/>
<path d="M183.74 200.60V204.31M181.54 200.60H185.94M181.54 204.31H185.94" stroke="#0b0b0b" stroke-width="1.0" fill="none"/>
<rect x="181.89" y="200.60" width="3.7" height="3.7" fill="#0b0b0b"/>
<path d="M188.00 204.47V207.79M185.80 204.47H190.20M185.80 207.79H190.20" stroke="#0b0b0b" stroke-width="1.0" fill="none"/>
<rect x="186.15" y="204.28" width="3.7" height="3.7" fill="#0b0b0b"/>
<path d="M192.27 209.44V212.43M190.07 209.44H194.47M190.07 212.43H194.47" stroke="#0b0b0b" stroke-width="1.0" fill="none"/>
<rect x="190.42" y="209.09" width="3.7" height="3.7" fill="#0b0b0b"/>
<path d="M196.54 214.92V217.62M194.34 214.92H198.74M194.34 217.62H198.74" stroke="#0b0b0b" stroke-width="1.0" fill="none"/>
<rect x="194.69" y="214.42" width="3.7" height="3.7" fill="#0b0b0b"/>
<path d="M200.80 219.95V222.40M198.60 219.95H203.00M198.60 222.40H203.00" stroke="#0b0b0b" stroke-width="1.0" fill="none"/>
<rect x="198.95" y="219.32" width="3.7" height="3.7" fill="#0b0b0b"/>
<path d="M205.07 224.31V226.54M202.87 224.31H207.27M202.87 226.54H207.27" stroke="#0b0b0b" stroke-width="1.0" fill="none"/>
<rect x="203.22" y="223.57" width="3.7" height="3.7" fill="#0b0b0b"/>
<path d="M209.34 227.95V229.98M207.14 227.95H211.54M207.14 229.98H211.54" stroke="#0b0b0b" stroke-width="1.0" fill="none"/>
<rect x="207.49" y="227.11" width="3.7" height="3.7" fill="#0b0b0b"/>
<path d="M213.60 231.67V233.54M211.40 231.67H215.80M211.40 233.54H215.80" stroke="#0b0b0b" stroke-width="1.0" fill="none"/>
<rect x="211.75" y="230.75" width="3.7" height="3.7" fill="#0b0b0b"/>
<path d="M217.87 234.36V236.09M215.67 234.36H220.07M215.67 236.09H220.07" stroke="#0b0b0b" stroke-width="1.0" fill="none"/>
<rect x="216.02" y="233.37" width="3.7" height="3.7" fill="#0b0b0b"/>
<path d="M222.14 237.48V239.09M219.94 237.48H224.34M219.94 239.09H224.34" stroke="#0b0b0b" stroke-width="1.0" fill="none"/>
<rect x="220.29" y="236.43" width="3.7" height="3.7" fill="#0b0b0b"/>
<path d="M226.41 239.95V241.45M224.21 239.95H228.61M224.21 241.45H228.61" stroke="#0b0b0b" stroke-width="1.0" fill="none"/>
<rect x="224.56" y="238.85" width="3.7" height="3.7" fill="#0b0b0b"/>
<path d="M230.67 241.91V243.32M228.47 241.91H232.87M228.47 243.32H232.87" stroke="#0b0b0b" stroke-width="1.0" fill="none"/>
<rect x="228.82" y="240.77" width="3.7" height="3.7" fill="#0b0b0b"/>
<path d="M234.94 243.87V245.19M232.74 243.87H237.14M232.74 245.19H237.14" stroke="#0b0b0b" stroke-width="1.0" fill="none"/>
<rect x="233.09" y="242.68" width="3.7" height="3.7" fill="#0b0b0b"/>
<path d="M239.21 245.82V247.07M237.01 245.82H241.41M237.01 247.07H241.41" stroke="#0b0b0b" stroke-width="1.0" fill="none"/>
<rect x="237.36" y="244.59" width="3.7" height="3.7" fill="#0b0b0b"/>
<path d="M243.47 247.35V248.54M241.27 247.35H245.67M241.27 248.54H245.67" stroke="#0b0b0b" stroke-width="1.0" fill="none"/>
<rect x="241.62" y="246.10" width="3.7" height="3.7" fill="#0b0b0b"/>
<path d="M247.74 248.78V249.93M245.54 248.78H249.94M245.54 249.93H249.94" stroke="#0b0b0b" stroke-width="1.0" fill="none"/>
<rect x="245.89" y="247.50" width="3.7" height="3.7" fill="#0b0b0b"/>
<path d="M252.01 250.21V251.31M249.81 250.21H254.21M249.81 251.31H254.21" stroke="#0b0b0b" stroke-width="1.0" fill="none"/>
<rect x="250.61" y="249.36" width="2.8" height="2.8" fill="#0b0b0b"/>
<path d="M256.27 251.64V252.70M254.07 251.64H258.47M254.07 252.70H258.47" stroke="#0b0b0b" stroke-width="1.0" fill="none"/>
<rect x="254.87" y="250.77" width="2.8" height="2.8" fill="#0b0b0b"/>
<path d="M260.54 252.99V254.02M258.34 252.99H262.74M258.34 254.02H262.74" stroke="#0b0b0b" stroke-width="1.0" fill="none"/>
<rect x="259.14" y="252.10" width="2.8" height="2.8" fill="#0b0b0b"/>
<path d="M264.81 253.83V254.83M262.61 253.83H267.01M262.61 254.83H267.01" stroke="#0b0b0b" stroke-width="1.0" fill="none"/>
<rect x="263.41" y="252.93" width="2.8" height="2.8" fill="#0b0b0b"/>
<path d="M269.08 254.67V255.64M266.88 254.67H271.28M266.88 255.64H271.28" stroke="#0b0b0b" stroke-width="1.0" fill="none"/>
<rect x="267.68" y="253.75" width="2.8" height="2.8" fill="#0b0b0b"/>
<path d="M273.34 255.51V256.45M271.14 255.51H275.54M271.14 256.45H275.54" stroke="#0b0b0b" stroke-width="1.0" fill="none"/>
<rect x="271.94" y="254.58" width="2.8" height="2.8" fill="#0b0b0b"/>
<path d="M277.61 256.34V257.27M275.41 256.34H279.81M275.41 257.27H279.81" stroke="#0b0b0b" stroke-width="1.0" fill="none"/>
<rect x="276.21" y="255.40" width="2.8" height="2.8" fill="#0b0b0b"/>
<path d="M281.88 257.17V258.08M279.68 257.17H284.08M279.68 258.08H284.08" stroke="#0b0b0b" stroke-width="1.0" fill="none"/>
<rect x="280.48" y="256.23" width="2.8" height="2.8" fill="#0b0b0b"/>
<path d="M286.14 258.01V258.90M283.94 258.01H288.34M283.94 258.90H288.34" stroke="#0b0b0b" stroke-width="1.0" fill="none"/>
<rect x="284.74" y="257.05" width="2.8" height="2.8" fill="#0b0b0b"/>
<path d="M290.41 258.79V259.68M288.21 258.79H292.61M288.21 259.68H292.61" stroke="#0b0b0b" stroke-width="1.0" fill="none"/>
<rect x="289.01" y="257.84" width="2.8" height="2.8" fill="#0b0b0b"/>
<path d="M294.68 259.17V260.05M292.48 259.17H296.88M292.48 260.05H296.88" stroke="#0b0b0b" stroke-width="1.0" fill="none"/>
<rect x="293.28" y="258.21" width="2.8" height="2.8" fill="#0b0b0b"/>
<path d="M298.94 259.55V260.41M296.74 259.55H301.14M296.74 260.41H301.14" stroke="#0b0b0b" stroke-width="1.0" fill="none"/>
<rect x="297.54" y="258.58" width="2.8" height="2.8" fill="#0b0b0b"/>
<path d="M303.21 259.93V260.78M301.01 259.93H305.41M301.01 260.78H305.41" stroke="#0b0b0b" stroke-width="1.0" fill="none"/>
<rect x="301.81" y="258.96" width="2.8" height="2.8" fill="#0b0b0b"/>
<path d="M307.48 260.31V261.15M305.28 260.31H309.68M305.28 261.15H309.68" stroke="#0b0b0b" stroke-width="1.0" fill="none"/>
<rect x="306.08" y="259.33" width="2.8" height="2.8" fill="#0b0b0b"/>
<path d="M311.75 260.68V261.52M309.55 260.68H313.94M309.55 261.52H313.94" stroke="#0b0b0b" stroke-width="1.0" fill="none"/>
<rect x="310.35" y="259.70" width="2.8" height="2.8" fill="#0b0b0b"/>
<path d="M316.01 261.06V261.89M313.81 261.06H318.21M313.81 261.89H318.21" stroke="#0b0b0b" stroke-width="1.0" fill="none"/>
<rect x="314.61" y="260.08" width="2.8" height="2.8" fill="#0b0b0b"/>
<path d="M320.28 261.43V262.26M318.08 261.43H322.48M318.08 262.26H322.48" stroke="#0b0b0b" stroke-width="1.0" fill="none"/>
<rect x="318.88" y="260.45" width="2.8" height="2.8" fill="#0b0b0b"/>
<path d="M324.55 261.81V262.64M322.35 261.81H326.75M322.35 262.64H326.75" stroke="#0b0b0b" stroke-width="1.0" fill="none"/>
<rect x="323.15" y="260.82" width="2.8" height="2.8" fill="#0b0b0b"/>
<path d="M328.81 262.18V263.01M326.61 262.18H331.01M326.61 263.01H331.01" stroke="#0b0b0b" stroke-width="1.0" fill="none"/>
<rect x="327.41" y="261.20" width="2.8" height="2.8" fill="#0b0b0b"/>
<path d="M333.08 262.39V263.22M330.88 262.39H335.28M330.88 263.22H335.28" stroke="#0b0b0b" stroke-width="1.0" fill="none"/>
<rect x="331.68" y="261.41" width="2.8" height="2.8" fill="#0b0b0b"/>
<path d="M337.35 262.54V263.36M335.15 262.54H339.55M335.15 263.36H339.55" stroke="#0b0b0b" stroke-width="1.0" fill="none"/>
<rect x="335.95" y="261.55" width="2.8" height="2.8" fill="#0b0b0b"/>
<path d="M341.61 262.69V263.50M339.41 262.69H343.81M339.41 263.50H343.81" stroke="#0b0b0b" stroke-width="1.0" fill="none"/>
<rect x="340.21" y="261.70" width="2.8" height="2.8" fill="#0b0b0b"/>
<path d="M345.88 262.83V263.65M343.68 262.83H348.08M343.68 263.65H348.08" stroke="#0b0b0b" stroke-width="1.0" fill="none"/>
<rect x="344.48" y="261.84" width="2.8" height="2.8" fill="#0b0b0b"/>
<path d="M350.15 262.98V263.79M347.95 262.98H352.35M347.95 263.79H352.35" stroke="#0b0b0b" stroke-width="1.0" fill="none"/>
<rect x="348.75" y="261.99" width="2.8" height="2.8" fill="#0b0b0b"/>
<path d="M354.42 263.13V263.94M352.22 263.13H356.62M352.22 263.94H356.62" stroke="#0b0b0b" stroke-width="1.0" fill="none"/>
<rect x="353.02" y="262.13" width="2.8" height="2.8" fill="#0b0b0b"/>
<path d="M358.68 263.27V264.08M356.48 263.27H360.88M356.48 264.08H360.88" stroke="#0b0b0b" stroke-width="1.0" fill="none"/>
<rect x="357.28" y="262.28" width="2.8" height="2.8" fill="#0b0b0b"/>
<path d="M362.95 263.42V264.23M360.75 263.42H365.15M360.75 264.23H365.15" stroke="#0b0b0b" stroke-width="1.0" fill="none"/>
<rect x="361.55" y="262.42" width="2.8" height="2.8" fill="#0b0b0b"/>
<path d="M367.22 263.57V264.37M365.02 263.57H369.42M365.02 264.37H369.42" stroke="#0b0b0b" stroke-width="1.0" fill="none"/>
<rect x="365.82" y="262.57" width="2.8" height="2.8" fill="#0b0b0b"/>
<path d="M371.48 263.71V264.52M369.28 263.71H373.68M369.28 264.52H373.68" stroke="#0b0b0b" stroke-width="1.0" fill="none"/>
<rect x="370.08" y="262.71" width="2.8" height="2.8" fill="#0b0b0b"/>
<polyline points="128.26,263.38 132.53,263.34 136.80,263.31 141.06,263.27 145.33,263.24 149.60,263.17 153.87,262.00 158.13,216.08 162.40,179.70 166.67,178.11 170.93,179.22 175.20,179.74 179.47,180.25 183.74,183.86 188.00,186.86 192.27,192.24 196.54,196.20 200.80,201.55 205.07,207.81 209.34,212.71 213.60,218.71 217.87,224.33 222.14,229.70 226.41,233.70 230.67,236.81 234.94,239.92 239.21,243.02 243.47,245.06 247.74,246.85 252.01,248.64 256.27,250.44 260.54,252.11 264.81,252.99 269.08,253.88 273.34,254.76 277.61,255.64 281.88,256.52 286.14,257.40 290.41,258.24 294.68,258.64 298.94,259.05 303.21,259.46 307.48,259.86 311.75,260.27 316.01,260.67 320.28,261.08 324.55,261.48 328.81,261.89 333.08,262.11 337.35,262.25 341.61,262.40 345.88,262.54 350.15,262.69 354.42,262.83 358.68,262.98 362.95,263.12 367.22,263.27 371.48,263.41" fill="none" stroke="#2f7fc6" stroke-width="1.2" stroke-linejoin="round" />
<path d="M128.26 262.68V264.08M125.96 262.68H130.56M125.96 264.08H130.56" stroke="#4890d0" stroke-width="1.0" fill="none"/>
<circle cx="128.26" cy="263.38" r="2.0" fill="#2f7fc6"/>
<path d="M132.53 262.64V264.04M130.23 262.64H134.83M130.23 264.04H134.83" stroke="#4890d0" stroke-width="1.0" fill="none"/>
<circle cx="132.53" cy="263.34" r="2.0" fill="#2f7fc6"/>
<path d="M136.80 262.61V264.01M134.50 262.61H139.10M134.50 264.01H139.10" stroke="#4890d0" stroke-width="1.0" fill="none"/>
<circle cx="136.80" cy="263.31" r="2.0" fill="#2f7fc6"/>
<path d="M141.06 262.57V263.97M138.76 262.57H143.37M138.76 263.97H143.37" stroke="#4890d0" stroke-width="1.0" fill="none"/>
<circle cx="141.06" cy="263.27" r="2.0" fill="#2f7fc6"/>
<path d="M145.33 262.54V263.94M143.03 262.54H147.63M143.03 263.94H147.63" stroke="#4890d0" stroke-width="1.0" fill="none"/>
<circle cx="145.33" cy="263.24" r="2.0" fill="#2f7fc6"/>
<path d="M149.60 262.47V263.87M147.30 262.47H151.90M147.30 263.87H151.90" stroke="#4890d0" stroke-width="1.0" fill="none"/>
<circle cx="149.60" cy="263.17" r="2.0" fill="#2f7fc6"/>
<path d="M153.87 261.30V262.70M151.57 261.30H156.17M151.57 262.70H156.17" stroke="#4890d0" stroke-width="1.0" fill="none"/>
<circle cx="153.87" cy="262.00" r="2.0" fill="#2f7fc6"/>
<path d="M158.13 209.08V223.08M155.83 209.08H160.43M155.83 223.08H160.43" stroke="#4890d0" stroke-width="1.0" fill="none"/>
<circle cx="158.13" cy="216.08" r="2.0" fill="#2f7fc6"/>
<path d="M162.40 172.98V186.42M160.10 172.98H164.70M160.10 186.42H164.70" stroke="#4890d0" stroke-width="1.0" fill="none"/>
<circle cx="162.40" cy="179.70" r="2.0" fill="#2f7fc6"/>
<path d="M166.67 172.18V184.05M164.37 172.18H168.97M164.37 184.05H168.97" stroke="#4890d0" stroke-width="1.0" fill="none"/>
<circle cx="166.67" cy="178.11" r="2.0" fill="#2f7fc6"/>
<path d="M170.93 173.96V184.47M168.63 173.96H173.23M168.63 184.47H173.23" stroke="#4890d0" stroke-width="1.0" fill="none"/>
<circle cx="170.93" cy="179.22" r="2.0" fill="#2f7fc6"/>
<path d="M175.20 175.08V184.41M172.90 175.08H177.50M172.90 184.41H177.50" stroke="#4890d0" stroke-width="1.0" fill="none"/>
<circle cx="175.20" cy="179.74" r="2.0" fill="#2f7fc6"/>
<path d="M179.47 176.10V184.40M177.17 176.10H181.77M177.17 184.40H181.77" stroke="#4890d0" stroke-width="1.0" fill="none"/>
<circle cx="179.47" cy="180.25" r="2.0" fill="#2f7fc6"/>
<path d="M183.74 180.15V187.57M181.44 180.15H186.04M181.44 187.57H186.04" stroke="#4890d0" stroke-width="1.0" fill="none"/>
<circle cx="183.74" cy="183.86" r="2.0" fill="#2f7fc6"/>
<path d="M188.00 183.54V190.18M185.70 183.54H190.30M185.70 190.18H190.30" stroke="#4890d0" stroke-width="1.0" fill="none"/>
<circle cx="188.00" cy="186.86" r="2.0" fill="#2f7fc6"/>
<path d="M192.27 189.26V195.23M189.97 189.26H194.57M189.97 195.23H194.57" stroke="#4890d0" stroke-width="1.0" fill="none"/>
<circle cx="192.27" cy="192.24" r="2.0" fill="#2f7fc6"/>
<path d="M196.54 193.50V198.89M194.24 193.50H198.84M194.24 198.89H198.84" stroke="#4890d0" stroke-width="1.0" fill="none"/>
<circle cx="196.54" cy="196.20" r="2.0" fill="#2f7fc6"/>
<path d="M200.80 199.11V204.00M198.50 199.11H203.10M198.50 204.00H203.10" stroke="#4890d0" stroke-width="1.0" fill="none"/>
<circle cx="200.80" cy="201.55" r="2.0" fill="#2f7fc6"/>
<path d="M205.07 205.58V210.04M202.77 205.58H207.37M202.77 210.04H207.37" stroke="#4890d0" stroke-width="1.0" fill="none"/>
<circle cx="205.07" cy="207.81" r="2.0" fill="#2f7fc6"/>
<path d="M209.34 210.67V214.75M207.04 210.67H211.64M207.04 214.75H211.64" stroke="#4890d0" stroke-width="1.0" fill="none"/>
<circle cx="209.34" cy="212.71" r="2.0" fill="#2f7fc6"/>
<path d="M213.60 216.83V220.58M211.30 216.83H215.90M211.30 220.58H215.90" stroke="#4890d0" stroke-width="1.0" fill="none"/>
<circle cx="213.60" cy="218.71" r="2.0" fill="#2f7fc6"/>
<path d="M217.87 222.60V226.06M215.57 222.60H220.17M215.57 226.06H220.17" stroke="#4890d0" stroke-width="1.0" fill="none"/>
<circle cx="217.87" cy="224.33" r="2.0" fill="#2f7fc6"/>
<path d="M222.14 228.09V231.30M219.84 228.09H224.44M219.84 231.30H224.44" stroke="#4890d0" stroke-width="1.0" fill="none"/>
<circle cx="222.14" cy="229.70" r="2.0" fill="#2f7fc6"/>
<path d="M226.41 232.20V235.20M224.11 232.20H228.71M224.11 235.20H228.71" stroke="#4890d0" stroke-width="1.0" fill="none"/>
<circle cx="226.41" cy="233.70" r="2.0" fill="#2f7fc6"/>
<path d="M230.67 235.40V238.22M228.37 235.40H232.97M228.37 238.22H232.97" stroke="#4890d0" stroke-width="1.0" fill="none"/>
<circle cx="230.67" cy="236.81" r="2.0" fill="#2f7fc6"/>
<path d="M234.94 238.59V241.24M232.64 238.59H237.24M232.64 241.24H237.24" stroke="#4890d0" stroke-width="1.0" fill="none"/>
<circle cx="234.94" cy="239.92" r="2.0" fill="#2f7fc6"/>
<path d="M239.21 241.76V244.28M236.91 241.76H241.51M236.91 244.28H241.51" stroke="#4890d0" stroke-width="1.0" fill="none"/>
<circle cx="239.21" cy="243.02" r="2.0" fill="#2f7fc6"/>
<path d="M243.47 243.86V246.26M241.17 243.86H245.77M241.17 246.26H245.77" stroke="#4890d0" stroke-width="1.0" fill="none"/>
<circle cx="243.47" cy="245.06" r="2.0" fill="#2f7fc6"/>
<path d="M247.74 245.71V247.99M245.44 245.71H250.04M245.44 247.99H250.04" stroke="#4890d0" stroke-width="1.0" fill="none"/>
<circle cx="247.74" cy="246.85" r="2.0" fill="#2f7fc6"/>
<path d="M252.01 247.54V249.74M249.71 247.54H254.31M249.71 249.74H254.31" stroke="#4890d0" stroke-width="1.0" fill="none"/>
<circle cx="252.01" cy="248.64" r="1.6" fill="#2f7fc6"/>
<path d="M256.27 249.38V251.49M253.97 249.38H258.57M253.97 251.49H258.57" stroke="#4890d0" stroke-width="1.0" fill="none"/>
<circle cx="256.27" cy="250.44" r="1.6" fill="#2f7fc6"/>
<path d="M260.54 251.09V253.14M258.24 251.09H262.84M258.24 253.14H262.84" stroke="#4890d0" stroke-width="1.0" fill="none"/>
<circle cx="260.54" cy="252.11" r="1.6" fill="#2f7fc6"/>
<path d="M264.81 252.00V253.99M262.51 252.00H267.11M262.51 253.99H267.11" stroke="#4890d0" stroke-width="1.0" fill="none"/>
<circle cx="264.81" cy="252.99" r="1.6" fill="#2f7fc6"/>
<path d="M269.08 252.91V254.84M266.78 252.91H271.38M266.78 254.84H271.38" stroke="#4890d0" stroke-width="1.0" fill="none"/>
<circle cx="269.08" cy="253.88" r="1.6" fill="#2f7fc6"/>
<path d="M273.34 253.81V255.70M271.04 253.81H275.64M271.04 255.70H275.64" stroke="#4890d0" stroke-width="1.0" fill="none"/>
<circle cx="273.34" cy="254.76" r="1.6" fill="#2f7fc6"/>
<path d="M277.61 254.71V256.57M275.31 254.71H279.91M275.31 256.57H279.91" stroke="#4890d0" stroke-width="1.0" fill="none"/>
<circle cx="277.61" cy="255.64" r="1.6" fill="#2f7fc6"/>
<path d="M281.88 255.61V257.43M279.58 255.61H284.18M279.58 257.43H284.18" stroke="#4890d0" stroke-width="1.0" fill="none"/>
<circle cx="281.88" cy="256.52" r="1.6" fill="#2f7fc6"/>
<path d="M286.14 256.51V258.30M283.84 256.51H288.44M283.84 258.30H288.44" stroke="#4890d0" stroke-width="1.0" fill="none"/>
<circle cx="286.14" cy="257.40" r="1.6" fill="#2f7fc6"/>
<path d="M290.41 257.36V259.12M288.11 257.36H292.71M288.11 259.12H292.71" stroke="#4890d0" stroke-width="1.0" fill="none"/>
<circle cx="290.41" cy="258.24" r="1.6" fill="#2f7fc6"/>
<path d="M294.68 257.77V259.52M292.38 257.77H296.98M292.38 259.52H296.98" stroke="#4890d0" stroke-width="1.0" fill="none"/>
<circle cx="294.68" cy="258.64" r="1.6" fill="#2f7fc6"/>
<path d="M298.94 258.19V259.91M296.64 258.19H301.24M296.64 259.91H301.24" stroke="#4890d0" stroke-width="1.0" fill="none"/>
<circle cx="298.94" cy="259.05" r="1.6" fill="#2f7fc6"/>
<path d="M303.21 258.60V260.31M300.91 258.60H305.51M300.91 260.31H305.51" stroke="#4890d0" stroke-width="1.0" fill="none"/>
<circle cx="303.21" cy="259.46" r="1.6" fill="#2f7fc6"/>
<path d="M307.48 259.01V260.71M305.18 259.01H309.78M305.18 260.71H309.78" stroke="#4890d0" stroke-width="1.0" fill="none"/>
<circle cx="307.48" cy="259.86" r="1.6" fill="#2f7fc6"/>
<path d="M311.75 259.43V261.11M309.44 259.43H314.05M309.44 261.11H314.05" stroke="#4890d0" stroke-width="1.0" fill="none"/>
<circle cx="311.75" cy="260.27" r="1.6" fill="#2f7fc6"/>
<path d="M316.01 259.84V261.51M313.71 259.84H318.31M313.71 261.51H318.31" stroke="#4890d0" stroke-width="1.0" fill="none"/>
<circle cx="316.01" cy="260.67" r="1.6" fill="#2f7fc6"/>
<path d="M320.28 260.25V261.91M317.98 260.25H322.58M317.98 261.91H322.58" stroke="#4890d0" stroke-width="1.0" fill="none"/>
<circle cx="320.28" cy="261.08" r="1.6" fill="#2f7fc6"/>
<path d="M324.55 260.66V262.31M322.25 260.66H326.85M322.25 262.31H326.85" stroke="#4890d0" stroke-width="1.0" fill="none"/>
<circle cx="324.55" cy="261.48" r="1.6" fill="#2f7fc6"/>
<path d="M328.81 261.06V262.71M326.51 261.06H331.11M326.51 262.71H331.11" stroke="#4890d0" stroke-width="1.0" fill="none"/>
<circle cx="328.81" cy="261.89" r="1.6" fill="#2f7fc6"/>
<path d="M333.08 261.28V262.93M330.78 261.28H335.38M330.78 262.93H335.38" stroke="#4890d0" stroke-width="1.0" fill="none"/>
<circle cx="333.08" cy="262.11" r="1.6" fill="#2f7fc6"/>
<path d="M337.35 261.43V263.07M335.05 261.43H339.65M335.05 263.07H339.65" stroke="#4890d0" stroke-width="1.0" fill="none"/>
<circle cx="337.35" cy="262.25" r="1.6" fill="#2f7fc6"/>
<path d="M341.61 261.58V263.21M339.31 261.58H343.91M339.31 263.21H343.91" stroke="#4890d0" stroke-width="1.0" fill="none"/>
<circle cx="341.61" cy="262.40" r="1.6" fill="#2f7fc6"/>
<path d="M345.88 261.73V263.35M343.58 261.73H348.18M343.58 263.35H348.18" stroke="#4890d0" stroke-width="1.0" fill="none"/>
<circle cx="345.88" cy="262.54" r="1.6" fill="#2f7fc6"/>
<path d="M350.15 261.88V263.50M347.85 261.88H352.45M347.85 263.50H352.45" stroke="#4890d0" stroke-width="1.0" fill="none"/>
<circle cx="350.15" cy="262.69" r="1.6" fill="#2f7fc6"/>
<path d="M354.42 262.02V263.64M352.12 262.02H356.72M352.12 263.64H356.72" stroke="#4890d0" stroke-width="1.0" fill="none"/>
<circle cx="354.42" cy="262.83" r="1.6" fill="#2f7fc6"/>
<path d="M358.68 262.17V263.79M356.38 262.17H360.98M356.38 263.79H360.98" stroke="#4890d0" stroke-width="1.0" fill="none"/>
<circle cx="358.68" cy="262.98" r="1.6" fill="#2f7fc6"/>
<path d="M362.95 262.32V263.93M360.65 262.32H365.25M360.65 263.93H365.25" stroke="#4890d0" stroke-width="1.0" fill="none"/>
<circle cx="362.95" cy="263.12" r="1.6" fill="#2f7fc6"/>
<path d="M367.22 262.46V264.08M364.92 262.46H369.52M364.92 264.08H369.52" stroke="#4890d0" stroke-width="1.0" fill="none"/>
<circle cx="367.22" cy="263.27" r="1.6" fill="#2f7fc6"/>
<path d="M371.48 262.61V264.22M369.18 262.61H373.78M369.18 264.22H373.78" stroke="#4890d0" stroke-width="1.0" fill="none"/>
<circle cx="371.48" cy="263.41" r="1.6" fill="#2f7fc6"/>
<path d="M329.3 224.5H358.2V209.8" fill="none" stroke="#0b0b0b" stroke-width="2.8"/>
<text x="320.7" y="238.3" font-size="10.5" font-weight="bold" text-anchor="start" stroke="#0b0b0b" stroke-width="0.22" >0.05 s</text>
<text x="375.6" y="213.2" font-size="10.7" font-weight="bold" text-anchor="middle" transform="rotate(-90 375.6 213.2)" stroke="#0b0b0b" stroke-width="0.22" >0.1 ratio</text>
<line x1="161.50" y1="440.60" x2="161.50" y2="517.00" stroke="#eec4c6" stroke-width="2.6" stroke-dasharray="5.6 0.9"/>
<line x1="194.30" y1="426.50" x2="194.30" y2="517.00" stroke="#eec4c6" stroke-width="2.6" stroke-dasharray="5.6 0.9"/>
<line x1="51.20" y1="338.20" x2="51.20" y2="518.80" stroke="#0b0b0b" stroke-width="2.7" />
<line x1="49.90" y1="517.60" x2="267.40" y2="517.60" stroke="#0b0b0b" stroke-width="2.4" />
<line x1="47.80" y1="340.20" x2="51.00" y2="340.20" stroke="#0b0b0b" stroke-width="1.9" />
<line x1="48.70" y1="355.70" x2="51.00" y2="355.70" stroke="#0b0b0b" stroke-width="1.2" />
<text x="46.2" y="344.9" font-size="10.5" font-weight="bold" text-anchor="end" stroke="#0b0b0b" stroke-width="0.22" >0.15</text>
<line x1="47.80" y1="371.20" x2="51.00" y2="371.20" stroke="#0b0b0b" stroke-width="1.9" />
<line x1="48.70" y1="386.70" x2="51.00" y2="386.70" stroke="#0b0b0b" stroke-width="1.2" />
<text x="46.2" y="375.9" font-size="10.5" font-weight="bold" text-anchor="end" stroke="#0b0b0b" stroke-width="0.22" >0.12</text>
<line x1="47.80" y1="402.20" x2="51.00" y2="402.20" stroke="#0b0b0b" stroke-width="1.9" />
<line x1="48.70" y1="417.70" x2="51.00" y2="417.70" stroke="#0b0b0b" stroke-width="1.2" />
<text x="46.2" y="406.9" font-size="10.5" font-weight="bold" text-anchor="end" stroke="#0b0b0b" stroke-width="0.22" >0.09</text>
<line x1="47.80" y1="433.20" x2="51.00" y2="433.20" stroke="#0b0b0b" stroke-width="1.9" />
<line x1="48.70" y1="448.70" x2="51.00" y2="448.70" stroke="#0b0b0b" stroke-width="1.2" />
<text x="46.2" y="437.9" font-size="10.5" font-weight="bold" text-anchor="end" stroke="#0b0b0b" stroke-width="0.22" >0.06</text>
<line x1="47.80" y1="464.20" x2="51.00" y2="464.20" stroke="#0b0b0b" stroke-width="1.9" />
<line x1="48.70" y1="479.70" x2="51.00" y2="479.70" stroke="#0b0b0b" stroke-width="1.2" />
<text x="46.2" y="468.9" font-size="10.5" font-weight="bold" text-anchor="end" stroke="#0b0b0b" stroke-width="0.22" >0.03</text>
<line x1="47.80" y1="495.20" x2="51.00" y2="495.20" stroke="#0b0b0b" stroke-width="1.9" />
<text x="46.2" y="499.9" font-size="10.5" font-weight="bold" text-anchor="end" stroke="#0b0b0b" stroke-width="0.22" >0</text>
<line x1="75.30" y1="517.60" x2="75.30" y2="521.30" stroke="#0b0b0b" stroke-width="1.7" />
<line x1="99.20" y1="517.60" x2="99.20" y2="520.20" stroke="#0b0b0b" stroke-width="1.2" />
<text x="74.7" y="533.5" font-size="10.2" font-weight="bold" text-anchor="middle" stroke="#0b0b0b" stroke-width="0.22" >0</text>
<line x1="123.10" y1="517.60" x2="123.10" y2="521.30" stroke="#0b0b0b" stroke-width="1.7" />
<line x1="147.00" y1="517.60" x2="147.00" y2="520.20" stroke="#0b0b0b" stroke-width="1.2" />
<text x="122.5" y="533.5" font-size="10.2" font-weight="bold" text-anchor="middle" stroke="#0b0b0b" stroke-width="0.22" >0.2</text>
<line x1="170.90" y1="517.60" x2="170.90" y2="521.30" stroke="#0b0b0b" stroke-width="1.7" />
<line x1="194.80" y1="517.60" x2="194.80" y2="520.20" stroke="#0b0b0b" stroke-width="1.2" />
<text x="170.29999999999998" y="533.5" font-size="10.2" font-weight="bold" text-anchor="middle" stroke="#0b0b0b" stroke-width="0.22" >0.4</text>
<line x1="218.70" y1="517.60" x2="218.70" y2="521.30" stroke="#0b0b0b" stroke-width="1.7" />
<line x1="242.60" y1="517.60" x2="242.60" y2="520.20" stroke="#0b0b0b" stroke-width="1.2" />
<text x="218.1" y="533.5" font-size="10.2" font-weight="bold" text-anchor="middle" stroke="#0b0b0b" stroke-width="0.22" >0.6</text>
<line x1="266.50" y1="517.60" x2="266.50" y2="521.30" stroke="#0b0b0b" stroke-width="1.7" />
<text x="265.9" y="533.5" font-size="10.2" font-weight="bold" text-anchor="middle" stroke="#0b0b0b" stroke-width="0.22" >0.8</text>
<line x1="51.40" y1="517.60" x2="51.40" y2="520.20" stroke="#0b0b0b" stroke-width="1.2" />
<text x="10.0" y="418.2" font-size="11.0" font-weight="bold" text-anchor="middle" transform="rotate(-90 10.0 418.2)" stroke="#0b0b0b" stroke-width="0.22" >Sarcomere shortening (µm)</text>
<text x="107" y="558" font-size="11.9" font-weight="bold">Fura 2 ratio (F<tspan font-size="7.7" dy="2.6">360/F380</tspan><tspan dy="-2.6">)</tspan></text>
<polyline points="73.00,497.40 76.17,497.06 79.33,496.56 82.50,495.97 85.67,495.33 88.83,494.63 92.00,493.89 95.17,493.11 98.33,492.30 101.50,491.45 104.67,490.58 107.83,489.68 111.00,488.75 114.17,487.80 117.33,486.83 120.50,485.84 123.67,484.83 126.83,483.80 130.00,482.75 133.17,481.68 136.33,480.60 139.50,479.50 144.70,474.30 149.40,467.70 154.20,460.50 155.30,452.50 158.60,444.50 166.10,435.70 170.40,426.20 173.80,418.10 175.80,410.00 182.60,403.50 188.80,398.50 194.60,394.60 198.80,392.30 201.70,392.50 208.70,393.90 214.80,396.50 220.00,401.20 223.10,406.00 226.90,412.10 230.40,420.80 232.40,431.30 231.20,443.70 230.60,457.30 220.40,474.60 171.80,489.20 89.00,496.20 73.00,497.40" fill="none" stroke="#0b0b0b" stroke-width="1.0" stroke-linejoin="round" />
<path d="M73.00 496.60V498.20M71.00 496.60H75.00M71.00 498.20H75.00" stroke="#0b0b0b" stroke-width="1.0" fill="none"/>
<rect x="71.50" y="495.90" width="3.0" height="3.0" fill="#0b0b0b"/>
<path d="M76.17 496.26V497.86M74.17 496.26H78.17M74.17 497.86H78.17" stroke="#0b0b0b" stroke-width="1.0" fill="none"/>
<rect x="74.67" y="495.56" width="3.0" height="3.0" fill="#0b0b0b"/>
<path d="M79.33 495.76V497.36M77.33 495.76H81.33M77.33 497.36H81.33" stroke="#0b0b0b" stroke-width="1.0" fill="none"/>
<rect x="77.83" y="495.06" width="3.0" height="3.0" fill="#0b0b0b"/>
<path d="M82.50 495.17V496.77M80.50 495.17H84.50M80.50 496.77H84.50" stroke="#0b0b0b" stroke-width="1.0" fill="none"/>
<rect x="81.00" y="494.47" width="3.0" height="3.0" fill="#0b0b0b"/>
<path d="M85.67 494.53V496.13M83.67 494.53H87.67M83.67 496.13H87.67" stroke="#0b0b0b" stroke-width="1.0" fill="none"/>
<rect x="84.17" y="493.83" width="3.0" height="3.0" fill="#0b0b0b"/>
<path d="M88.83 493.83V495.43M86.83 493.83H90.83M86.83 495.43H90.83" stroke="#0b0b0b" stroke-width="1.0" fill="none"/>
<rect x="87.33" y="493.13" width="3.0" height="3.0" fill="#0b0b0b"/>
<path d="M92.00 493.09V494.69M90.00 493.09H94.00M90.00 494.69H94.00" stroke="#0b0b0b" stroke-width="1.0" fill="none"/>
<rect x="90.50" y="492.39" width="3.0" height="3.0" fill="#0b0b0b"/>
<path d="M95.17 492.31V493.91M93.17 492.31H97.17M93.17 493.91H97.17" stroke="#0b0b0b" stroke-width="1.0" fill="none"/>
<rect x="93.67" y="491.61" width="3.0" height="3.0" fill="#0b0b0b"/>
<path d="M98.33 491.50V493.10M96.33 491.50H100.33M96.33 493.10H100.33" stroke="#0b0b0b" stroke-width="1.0" fill="none"/>
<rect x="96.83" y="490.80" width="3.0" height="3.0" fill="#0b0b0b"/>
<path d="M101.50 490.65V492.25M99.50 490.65H103.50M99.50 492.25H103.50" stroke="#0b0b0b" stroke-width="1.0" fill="none"/>
<rect x="100.00" y="489.95" width="3.0" height="3.0" fill="#0b0b0b"/>
<path d="M104.67 489.78V491.38M102.67 489.78H106.67M102.67 491.38H106.67" stroke="#0b0b0b" stroke-width="1.0" fill="none"/>
<rect x="103.17" y="489.08" width="3.0" height="3.0" fill="#0b0b0b"/>
<path d="M107.83 488.88V490.48M105.83 488.88H109.83M105.83 490.48H109.83" stroke="#0b0b0b" stroke-width="1.0" fill="none"/>
<rect x="106.33" y="488.18" width="3.0" height="3.0" fill="#0b0b0b"/>
<path d="M111.00 487.95V489.55M109.00 487.95H113.00M109.00 489.55H113.00" stroke="#0b0b0b" stroke-width="1.0" fill="none"/>
<rect x="109.50" y="487.25" width="3.0" height="3.0" fill="#0b0b0b"/>
<path d="M114.17 487.00V488.60M112.17 487.00H116.17M112.17 488.60H116.17" stroke="#0b0b0b" stroke-width="1.0" fill="none"/>
<rect x="112.67" y="486.30" width="3.0" height="3.0" fill="#0b0b0b"/>
<path d="M117.33 486.03V487.63M115.33 486.03H119.33M115.33 487.63H119.33" stroke="#0b0b0b" stroke-width="1.0" fill="none"/>
<rect x="115.83" y="485.33" width="3.0" height="3.0" fill="#0b0b0b"/>
<path d="M120.50 485.04V486.64M118.50 485.04H122.50M118.50 486.64H122.50" stroke="#0b0b0b" stroke-width="1.0" fill="none"/>
<rect x="119.00" y="484.34" width="3.0" height="3.0" fill="#0b0b0b"/>
<path d="M123.67 484.03V485.63M121.67 484.03H125.67M121.67 485.63H125.67" stroke="#0b0b0b" stroke-width="1.0" fill="none"/>
<rect x="122.17" y="483.33" width="3.0" height="3.0" fill="#0b0b0b"/>
<path d="M126.83 483.00V484.60M124.83 483.00H128.83M124.83 484.60H128.83" stroke="#0b0b0b" stroke-width="1.0" fill="none"/>
<rect x="125.33" y="482.30" width="3.0" height="3.0" fill="#0b0b0b"/>
<path d="M130.00 481.95V483.55M128.00 481.95H132.00M128.00 483.55H132.00" stroke="#0b0b0b" stroke-width="1.0" fill="none"/>
<rect x="128.50" y="481.25" width="3.0" height="3.0" fill="#0b0b0b"/>
<path d="M133.17 480.88V482.48M131.17 480.88H135.17M131.17 482.48H135.17" stroke="#0b0b0b" stroke-width="1.0" fill="none"/>
<rect x="131.67" y="480.18" width="3.0" height="3.0" fill="#0b0b0b"/>
<path d="M136.33 479.80V481.40M134.33 479.80H138.33M134.33 481.40H138.33" stroke="#0b0b0b" stroke-width="1.0" fill="none"/>
<rect x="134.83" y="479.10" width="3.0" height="3.0" fill="#0b0b0b"/>
<path d="M139.50 478.70V480.30M137.50 478.70H141.50M137.50 480.30H141.50" stroke="#0b0b0b" stroke-width="1.0" fill="none"/>
<rect x="138.00" y="478.00" width="3.0" height="3.0" fill="#0b0b0b"/>
<path d="M144.70 472.30V476.30M142.70 472.30H146.70M142.70 476.30H146.70" stroke="#0b0b0b" stroke-width="1.0" fill="none"/>
<rect x="142.55" y="472.15" width="4.3" height="4.3" fill="#0b0b0b"/>
<path d="M149.40 464.70V470.70M147.40 464.70H151.40M147.40 470.70H151.40" stroke="#0b0b0b" stroke-width="1.0" fill="none"/>
<rect x="147.25" y="465.55" width="4.3" height="4.3" fill="#0b0b0b"/>
<path d="M154.20 455.50V465.50M152.20 455.50H156.20M152.20 465.50H156.20" stroke="#0b0b0b" stroke-width="1.0" fill="none"/>
<rect x="152.05" y="458.35" width="4.3" height="4.3" fill="#0b0b0b"/>
<path d="M155.30 446.00V459.00M153.30 446.00H157.30M153.30 459.00H157.30" stroke="#0b0b0b" stroke-width="1.0" fill="none"/>
<rect x="153.15" y="450.35" width="4.3" height="4.3" fill="#0b0b0b"/>
<path d="M158.60 437.80V451.20M156.60 437.80H160.60M156.60 451.20H160.60" stroke="#0b0b0b" stroke-width="1.0" fill="none"/>
<rect x="156.45" y="442.35" width="4.3" height="4.3" fill="#0b0b0b"/>
<path d="M166.10 430.70V440.70M164.10 430.70H168.10M164.10 440.70H168.10" stroke="#0b0b0b" stroke-width="1.0" fill="none"/>
<rect x="163.95" y="433.55" width="4.3" height="4.3" fill="#0b0b0b"/>
<path d="M170.40 420.20V432.20M168.40 420.20H172.40M168.40 432.20H172.40" stroke="#0b0b0b" stroke-width="1.0" fill="none"/>
<rect x="168.25" y="424.05" width="4.3" height="4.3" fill="#0b0b0b"/>
<path d="M173.80 411.60V424.60M171.80 411.60H175.80M171.80 424.60H175.80" stroke="#0b0b0b" stroke-width="1.0" fill="none"/>
<rect x="171.65" y="415.95" width="4.3" height="4.3" fill="#0b0b0b"/>
<path d="M175.80 401.60V418.40M173.80 401.60H177.80M173.80 418.40H177.80" stroke="#0b0b0b" stroke-width="1.0" fill="none"/>
<rect x="173.65" y="407.85" width="4.3" height="4.3" fill="#0b0b0b"/>
<path d="M182.60 396.30V410.70M180.60 396.30H184.60M180.60 410.70H184.60" stroke="#0b0b0b" stroke-width="1.0" fill="none"/>
<rect x="180.45" y="401.35" width="4.3" height="4.3" fill="#0b0b0b"/>
<path d="M188.80 391.50V405.50M186.80 391.50H190.80M186.80 405.50H190.80" stroke="#0b0b0b" stroke-width="1.0" fill="none"/>
<rect x="186.65" y="396.35" width="4.3" height="4.3" fill="#0b0b0b"/>
<path d="M194.60 388.60V400.60M192.60 388.60H196.60M192.60 400.60H196.60" stroke="#0b0b0b" stroke-width="1.0" fill="none"/>
<rect x="192.45" y="392.45" width="4.3" height="4.3" fill="#0b0b0b"/>
<path d="M198.80 386.70V397.90M196.80 386.70H200.80M196.80 397.90H200.80" stroke="#0b0b0b" stroke-width="1.0" fill="none"/>
<rect x="196.65" y="390.15" width="4.3" height="4.3" fill="#0b0b0b"/>
<path d="M201.70 387.50V397.50M199.70 387.50H203.70M199.70 397.50H203.70" stroke="#0b0b0b" stroke-width="1.0" fill="none"/>
<rect x="199.55" y="390.35" width="4.3" height="4.3" fill="#0b0b0b"/>
<path d="M208.70 390.40V397.40M206.70 390.40H210.70M206.70 397.40H210.70" stroke="#0b0b0b" stroke-width="1.0" fill="none"/>
<rect x="206.55" y="391.75" width="4.3" height="4.3" fill="#0b0b0b"/>
<path d="M214.80 392.20V400.80M212.80 392.20H216.80M212.80 400.80H216.80" stroke="#0b0b0b" stroke-width="1.0" fill="none"/>
<rect x="212.65" y="394.35" width="4.3" height="4.3" fill="#0b0b0b"/>
<path d="M220.00 398.70V403.70M218.00 398.70H222.00M218.00 403.70H222.00" stroke="#0b0b0b" stroke-width="1.0" fill="none"/>
<rect x="217.85" y="399.05" width="4.3" height="4.3" fill="#0b0b0b"/>
<path d="M223.10 404.00V408.00M221.10 404.00H225.10M221.10 408.00H225.10" stroke="#0b0b0b" stroke-width="1.0" fill="none"/>
<rect x="220.95" y="403.85" width="4.3" height="4.3" fill="#0b0b0b"/>
<path d="M226.90 410.30V413.90M224.90 410.30H228.90M224.90 413.90H228.90" stroke="#0b0b0b" stroke-width="1.0" fill="none"/>
<rect x="224.75" y="409.95" width="4.3" height="4.3" fill="#0b0b0b"/>
<path d="M230.40 419.30V422.30M228.40 419.30H232.40M228.40 422.30H232.40" stroke="#0b0b0b" stroke-width="1.0" fill="none"/>
<rect x="228.25" y="418.65" width="4.3" height="4.3" fill="#0b0b0b"/>
<path d="M232.40 430.10V432.50M230.40 430.10H234.40M230.40 432.50H234.40" stroke="#0b0b0b" stroke-width="1.0" fill="none"/>
<rect x="230.25" y="429.15" width="4.3" height="4.3" fill="#0b0b0b"/>
<path d="M231.20 442.50V444.90M229.20 442.50H233.20M229.20 444.90H233.20" stroke="#0b0b0b" stroke-width="1.0" fill="none"/>
<rect x="229.05" y="441.55" width="4.3" height="4.3" fill="#0b0b0b"/>
<path d="M230.60 456.10V458.50M228.60 456.10H232.60M228.60 458.50H232.60" stroke="#0b0b0b" stroke-width="1.0" fill="none"/>
<rect x="228.45" y="455.15" width="4.3" height="4.3" fill="#0b0b0b"/>
<rect x="218.25" y="472.45" width="4.3" height="4.3" fill="#0b0b0b"/>
<rect x="169.80" y="487.20" width="4.0" height="4.0" fill="#0b0b0b"/>
<rect x="87.00" y="494.20" width="4.0" height="4.0" fill="#0b0b0b"/>
<polyline points="72.10,496.90 74.88,496.43 77.66,495.89 80.44,495.31 83.22,494.70 86.00,494.08 88.78,493.44 91.56,492.79 94.33,492.13 97.11,491.45 99.89,490.77 102.67,490.08 105.45,489.38 108.23,488.68 111.01,487.96 113.79,487.25 116.57,486.52 119.35,485.79 122.13,485.06 124.91,484.32 127.69,483.58 130.47,482.83 133.24,482.08 136.02,481.32 138.80,480.56 141.58,479.79 144.36,479.03 147.14,478.25 149.92,477.48 152.70,476.70 157.40,474.60 165.80,469.50 173.70,464.00 179.30,457.40 184.30,449.60 189.00,439.00 194.60,415.10 199.10,402.30 206.10,390.40 208.30,379.60 214.80,370.40 219.60,364.30 224.70,359.10 229.50,360.90 235.30,362.60 233.90,366.90 238.20,373.00 237.00,381.40 242.60,390.70 245.20,403.40 248.60,417.70 249.10,435.60 242.90,455.10 220.40,474.60 161.10,490.60 110.00,494.60 72.10,497.20" fill="none" stroke="#2f7fc6" stroke-width="1.0" stroke-linejoin="round" />
<path d="M72.10 496.00V497.80M70.10 496.00H74.10M70.10 497.80H74.10" stroke="#4890d0" stroke-width="1.0" fill="none"/>
<circle cx="72.10" cy="496.90" r="2.1" fill="#2f7fc6"/>
<path d="M74.88 495.53V497.33M72.88 495.53H76.88M72.88 497.33H76.88" stroke="#4890d0" stroke-width="1.0" fill="none"/>
<circle cx="74.88" cy="496.43" r="2.1" fill="#2f7fc6"/>
<path d="M77.66 494.99V496.79M75.66 494.99H79.66M75.66 496.79H79.66" stroke="#4890d0" stroke-width="1.0" fill="none"/>
<circle cx="77.66" cy="495.89" r="2.1" fill="#2f7fc6"/>
<path d="M80.44 494.41V496.21M78.44 494.41H82.44M78.44 496.21H82.44" stroke="#4890d0" stroke-width="1.0" fill="none"/>
<circle cx="80.44" cy="495.31" r="2.1" fill="#2f7fc6"/>
<path d="M83.22 493.80V495.60M81.22 493.80H85.22M81.22 495.60H85.22" stroke="#4890d0" stroke-width="1.0" fill="none"/>
<circle cx="83.22" cy="494.70" r="2.1" fill="#2f7fc6"/>
<path d="M86.00 493.18V494.98M84.00 493.18H88.00M84.00 494.98H88.00" stroke="#4890d0" stroke-width="1.0" fill="none"/>
<circle cx="86.00" cy="494.08" r="2.1" fill="#2f7fc6"/>
<path d="M88.78 492.54V494.34M86.78 492.54H90.78M86.78 494.34H90.78" stroke="#4890d0" stroke-width="1.0" fill="none"/>
<circle cx="88.78" cy="493.44" r="2.1" fill="#2f7fc6"/>
<path d="M91.56 491.89V493.69M89.56 491.89H93.56M89.56 493.69H93.56" stroke="#4890d0" stroke-width="1.0" fill="none"/>
<circle cx="91.56" cy="492.79" r="2.1" fill="#2f7fc6"/>
<path d="M94.33 491.23V493.03M92.33 491.23H96.33M92.33 493.03H96.33" stroke="#4890d0" stroke-width="1.0" fill="none"/>
<circle cx="94.33" cy="492.13" r="2.1" fill="#2f7fc6"/>
<path d="M97.11 490.55V492.35M95.11 490.55H99.11M95.11 492.35H99.11" stroke="#4890d0" stroke-width="1.0" fill="none"/>
<circle cx="97.11" cy="491.45" r="2.1" fill="#2f7fc6"/>
<path d="M99.89 489.87V491.67M97.89 489.87H101.89M97.89 491.67H101.89" stroke="#4890d0" stroke-width="1.0" fill="none"/>
<circle cx="99.89" cy="490.77" r="2.1" fill="#2f7fc6"/>
<path d="M102.67 489.18V490.98M100.67 489.18H104.67M100.67 490.98H104.67" stroke="#4890d0" stroke-width="1.0" fill="none"/>
<circle cx="102.67" cy="490.08" r="2.1" fill="#2f7fc6"/>
<path d="M105.45 488.48V490.28M103.45 488.48H107.45M103.45 490.28H107.45" stroke="#4890d0" stroke-width="1.0" fill="none"/>
<circle cx="105.45" cy="489.38" r="2.1" fill="#2f7fc6"/>
<path d="M108.23 487.78V489.58M106.23 487.78H110.23M106.23 489.58H110.23" stroke="#4890d0" stroke-width="1.0" fill="none"/>
<circle cx="108.23" cy="488.68" r="2.1" fill="#2f7fc6"/>
<path d="M111.01 487.06V488.86M109.01 487.06H113.01M109.01 488.86H113.01" stroke="#4890d0" stroke-width="1.0" fill="none"/>
<circle cx="111.01" cy="487.96" r="2.1" fill="#2f7fc6"/>
<path d="M113.79 486.35V488.15M111.79 486.35H115.79M111.79 488.15H115.79" stroke="#4890d0" stroke-width="1.0" fill="none"/>
<circle cx="113.79" cy="487.25" r="2.1" fill="#2f7fc6"/>
<path d="M116.57 485.62V487.42M114.57 485.62H118.57M114.57 487.42H118.57" stroke="#4890d0" stroke-width="1.0" fill="none"/>
<circle cx="116.57" cy="486.52" r="2.1" fill="#2f7fc6"/>
<path d="M119.35 484.89V486.69M117.35 484.89H121.35M117.35 486.69H121.35" stroke="#4890d0" stroke-width="1.0" fill="none"/>
<circle cx="119.35" cy="485.79" r="2.1" fill="#2f7fc6"/>
<path d="M122.13 484.16V485.96M120.13 484.16H124.13M120.13 485.96H124.13" stroke="#4890d0" stroke-width="1.0" fill="none"/>
<circle cx="122.13" cy="485.06" r="2.1" fill="#2f7fc6"/>
<path d="M124.91 483.42V485.22M122.91 483.42H126.91M122.91 485.22H126.91" stroke="#4890d0" stroke-width="1.0" fill="none"/>
<circle cx="124.91" cy="484.32" r="2.1" fill="#2f7fc6"/>
<path d="M127.69 482.68V484.48M125.69 482.68H129.69M125.69 484.48H129.69" stroke="#4890d0" stroke-width="1.0" fill="none"/>
<circle cx="127.69" cy="483.58" r="2.1" fill="#2f7fc6"/>
<path d="M130.47 481.93V483.73M128.47 481.93H132.47M128.47 483.73H132.47" stroke="#4890d0" stroke-width="1.0" fill="none"/>
<circle cx="130.47" cy="482.83" r="2.1" fill="#2f7fc6"/>
<path d="M133.24 481.18V482.98M131.24 481.18H135.24M131.24 482.98H135.24" stroke="#4890d0" stroke-width="1.0" fill="none"/>
<circle cx="133.24" cy="482.08" r="2.1" fill="#2f7fc6"/>
<path d="M136.02 480.42V482.22M134.02 480.42H138.02M134.02 482.22H138.02" stroke="#4890d0" stroke-width="1.0" fill="none"/>
<circle cx="136.02" cy="481.32" r="2.1" fill="#2f7fc6"/>
<path d="M138.80 479.66V481.46M136.80 479.66H140.80M136.80 481.46H140.80" stroke="#4890d0" stroke-width="1.0" fill="none"/>
<circle cx="138.80" cy="480.56" r="2.1" fill="#2f7fc6"/>
<path d="M141.58 478.89V480.69M139.58 478.89H143.58M139.58 480.69H143.58" stroke="#4890d0" stroke-width="1.0" fill="none"/>
<circle cx="141.58" cy="479.79" r="2.1" fill="#2f7fc6"/>
<path d="M144.36 478.13V479.93M142.36 478.13H146.36M142.36 479.93H146.36" stroke="#4890d0" stroke-width="1.0" fill="none"/>
<circle cx="144.36" cy="479.03" r="2.1" fill="#2f7fc6"/>
<path d="M147.14 477.35V479.15M145.14 477.35H149.14M145.14 479.15H149.14" stroke="#4890d0" stroke-width="1.0" fill="none"/>
<circle cx="147.14" cy="478.25" r="2.1" fill="#2f7fc6"/>
<path d="M149.92 476.58V478.38M147.92 476.58H151.92M147.92 478.38H151.92" stroke="#4890d0" stroke-width="1.0" fill="none"/>
<circle cx="149.92" cy="477.48" r="2.1" fill="#2f7fc6"/>
<path d="M152.70 475.80V477.60M150.70 475.80H154.70M150.70 477.60H154.70" stroke="#4890d0" stroke-width="1.0" fill="none"/>
<circle cx="152.70" cy="476.70" r="2.5" fill="#2f7fc6"/>
<path d="M157.40 472.10V477.10M155.40 472.10H159.40M155.40 477.10H159.40" stroke="#4890d0" stroke-width="1.0" fill="none"/>
<circle cx="157.40" cy="474.60" r="2.5" fill="#2f7fc6"/>
<path d="M165.80 466.00V473.00M163.80 466.00H167.80M163.80 473.00H167.80" stroke="#4890d0" stroke-width="1.0" fill="none"/>
<circle cx="165.80" cy="469.50" r="2.5" fill="#2f7fc6"/>
<path d="M173.70 459.30V468.70M171.70 459.30H175.70M171.70 468.70H175.70" stroke="#4890d0" stroke-width="1.0" fill="none"/>
<circle cx="173.70" cy="464.00" r="2.5" fill="#2f7fc6"/>
<path d="M179.30 450.90V463.90M177.30 450.90H181.30M177.30 463.90H181.30" stroke="#4890d0" stroke-width="1.0" fill="none"/>
<circle cx="179.30" cy="457.40" r="2.5" fill="#2f7fc6"/>
<path d="M184.30 442.10V457.10M182.30 442.10H186.30M182.30 457.10H186.30" stroke="#4890d0" stroke-width="1.0" fill="none"/>
<circle cx="184.30" cy="449.60" r="2.5" fill="#2f7fc6"/>
<path d="M189.00 430.00V448.00M187.00 430.00H191.00M187.00 448.00H191.00" stroke="#4890d0" stroke-width="1.0" fill="none"/>
<circle cx="189.00" cy="439.00" r="2.5" fill="#2f7fc6"/>
<path d="M194.60 405.10V425.10M192.60 405.10H196.60M192.60 425.10H196.60" stroke="#4890d0" stroke-width="1.0" fill="none"/>
<circle cx="194.60" cy="415.10" r="2.5" fill="#2f7fc6"/>
<path d="M199.10 390.30V414.30M197.10 390.30H201.10M197.10 414.30H201.10" stroke="#4890d0" stroke-width="1.0" fill="none"/>
<circle cx="199.10" cy="402.30" r="2.5" fill="#2f7fc6"/>
<path d="M206.10 379.40V401.40M204.10 379.40H208.10M204.10 401.40H208.10" stroke="#4890d0" stroke-width="1.0" fill="none"/>
<circle cx="206.10" cy="390.40" r="2.5" fill="#2f7fc6"/>
<path d="M208.30 367.10V392.10M206.30 367.10H210.30M206.30 392.10H210.30" stroke="#4890d0" stroke-width="1.0" fill="none"/>
<circle cx="208.30" cy="379.60" r="2.5" fill="#2f7fc6"/>
<path d="M214.80 360.40V380.40M212.80 360.40H216.80M212.80 380.40H216.80" stroke="#4890d0" stroke-width="1.0" fill="none"/>
<circle cx="214.80" cy="370.40" r="2.5" fill="#2f7fc6"/>
<path d="M219.60 355.60V373.00M217.60 355.60H221.60M217.60 373.00H221.60" stroke="#4890d0" stroke-width="1.0" fill="none"/>
<circle cx="219.60" cy="364.30" r="2.5" fill="#2f7fc6"/>
<path d="M224.70 352.10V366.10M222.70 352.10H226.70M222.70 366.10H226.70" stroke="#4890d0" stroke-width="1.0" fill="none"/>
<circle cx="224.70" cy="359.10" r="2.5" fill="#2f7fc6"/>
<path d="M229.50 354.40V367.40M227.50 354.40H231.50M227.50 367.40H231.50" stroke="#4890d0" stroke-width="1.0" fill="none"/>
<circle cx="229.50" cy="360.90" r="2.5" fill="#2f7fc6"/>
<path d="M235.30 356.60V368.60M233.30 356.60H237.30M233.30 368.60H237.30" stroke="#4890d0" stroke-width="1.0" fill="none"/>
<circle cx="235.30" cy="362.60" r="2.5" fill="#2f7fc6"/>
<path d="M233.90 362.90V370.90M231.90 362.90H235.90M231.90 370.90H235.90" stroke="#4890d0" stroke-width="1.0" fill="none"/>
<circle cx="233.90" cy="366.90" r="2.5" fill="#2f7fc6"/>
<path d="M238.20 369.00V377.00M236.20 369.00H240.20M236.20 377.00H240.20" stroke="#4890d0" stroke-width="1.0" fill="none"/>
<circle cx="238.20" cy="373.00" r="2.5" fill="#2f7fc6"/>
<path d="M237.00 376.90V385.90M235.00 376.90H239.00M235.00 385.90H239.00" stroke="#4890d0" stroke-width="1.0" fill="none"/>
<circle cx="237.00" cy="381.40" r="2.5" fill="#2f7fc6"/>
<path d="M242.60 385.10V396.30M240.60 385.10H244.60M240.60 396.30H244.60" stroke="#4890d0" stroke-width="1.0" fill="none"/>
<circle cx="242.60" cy="390.70" r="2.5" fill="#2f7fc6"/>
<path d="M245.20 398.40V408.40M243.20 398.40H247.20M243.20 408.40H247.20" stroke="#4890d0" stroke-width="1.0" fill="none"/>
<circle cx="245.20" cy="403.40" r="2.5" fill="#2f7fc6"/>
<path d="M248.60 410.70V424.70M246.60 410.70H250.60M246.60 424.70H250.60" stroke="#4890d0" stroke-width="1.0" fill="none"/>
<circle cx="248.60" cy="417.70" r="2.5" fill="#2f7fc6"/>
<path d="M249.10 430.20V441.00M247.10 430.20H251.10M247.10 441.00H251.10" stroke="#4890d0" stroke-width="1.0" fill="none"/>
<circle cx="249.10" cy="435.60" r="2.5" fill="#2f7fc6"/>
<path d="M242.90 450.50V459.70M240.90 450.50H244.90M240.90 459.70H244.90" stroke="#4890d0" stroke-width="1.0" fill="none"/>
<circle cx="242.90" cy="455.10" r="2.5" fill="#2f7fc6"/>
<path d="M220.40 471.40V477.80M218.40 471.40H222.40M218.40 477.80H222.40" stroke="#4890d0" stroke-width="1.0" fill="none"/>
<circle cx="220.40" cy="474.60" r="2.5" fill="#2f7fc6"/>
<circle cx="161.10" cy="490.60" r="2.0" fill="#7fb0dc"/>
<path d="M161.10 488.40V492.80M158.70 488.40H163.50M158.70 492.80H163.50" stroke="#2f7fc6" stroke-width="1.0" fill="none"/>
<path d="M160.7 428.6H184.6V425.5L192.2 432.6L184.6 439.7V436.6H160.7Z" fill="#40689b" stroke="#3a5883" stroke-width="0.8"/>
<line x1="163.40" y1="432.60" x2="188.40" y2="432.60" stroke="#c8202c" stroke-width="2.0" />
<text x="146.8" y="415.2" font-size="11.0" font-weight="bold" text-anchor="start" stroke="#0b0b0b" stroke-width="0.22" >NT</text>
<text x="249.2" y="368.1" font-size="11.0" font-weight="bold" text-anchor="start" stroke="#0b0b0b" stroke-width="0.22" >NF</text>
<line x1="380.20" y1="387.70" x2="380.20" y2="515.00" stroke="#0b0b0b" stroke-width="2.3" />
<line x1="377.30" y1="513.90" x2="518.00" y2="513.90" stroke="#0b0b0b" stroke-width="2.2" />
<line x1="376.30" y1="388.80" x2="380.30" y2="388.80" stroke="#0b0b0b" stroke-width="2.1" />
<line x1="377.60" y1="409.60" x2="380.30" y2="409.60" stroke="#0b0b0b" stroke-width="1.3" />
<text x="373.3" y="392.7" font-size="11.2" font-weight="bold" text-anchor="end" stroke="#0b0b0b" stroke-width="0.22" >0.6</text>
<line x1="376.30" y1="430.43" x2="380.30" y2="430.43" stroke="#0b0b0b" stroke-width="2.1" />
<line x1="377.60" y1="451.23" x2="380.30" y2="451.23" stroke="#0b0b0b" stroke-width="1.3" />
<text x="373.3" y="434.33" font-size="11.2" font-weight="bold" text-anchor="end" stroke="#0b0b0b" stroke-width="0.22" >0.4</text>
<line x1="376.30" y1="472.06" x2="380.30" y2="472.06" stroke="#0b0b0b" stroke-width="2.1" />
<line x1="377.60" y1="492.86" x2="380.30" y2="492.86" stroke="#0b0b0b" stroke-width="1.3" />
<text x="373.3" y="475.96" font-size="11.2" font-weight="bold" text-anchor="end" stroke="#0b0b0b" stroke-width="0.22" >0.2</text>
<line x1="376.30" y1="513.69" x2="380.30" y2="513.69" stroke="#0b0b0b" stroke-width="2.1" />
<text x="373.3" y="517.59" font-size="11.2" font-weight="bold" text-anchor="end" stroke="#0b0b0b" stroke-width="0.22" >0</text>
<defs><pattern id="dots" width="29" height="53" patternUnits="userSpaceOnUse"><rect width="29" height="53" fill="#4a80be"/><rect x="7" y="37" width="1" height="1" fill="#607a9c"/><rect x="17" y="8" width="1" height="1" fill="#607a9c"/><rect x="11" y="38" width="1" height="1" fill="#607a9c"/><rect x="15" y="40" width="1" height="1" fill="#607a9c"/><rect x="18" y="4" width="1" height="1" fill="#607a9c"/><rect x="19" y="0" width="1" height="1" fill="#607a9c"/><rect x="26" y="30" width="1" height="1" fill="#607a9c"/><rect x="8" y="35" width="1" height="1" fill="#607a9c"/><rect x="7" y="12" width="1" height="1" fill="#607a9c"/><rect x="22" y="30" width="1" height="1" fill="#607a9c"/><rect x="17" y="35" width="1" height="1" fill="#607a9c"/><rect x="15" y="25" width="1" height="1" fill="#607a9c"/><rect x="20" y="9" width="1" height="1" fill="#607a9c"/><rect x="7" y="40" width="1" height="1" fill="#607a9c"/><rect x="4" y="33" width="1" height="1" fill="#607a9c"/><rect x="12" y="47" width="1" height="1" fill="#607a9c"/><rect x="0" y="42" width="1" height="1" fill="#607a9c"/><rect x="24" y="4" width="1" height="1" fill="#607a9c"/><rect x="5" y="48" width="1" height="1" fill="#607a9c"/><rect x="18" y="2" width="1" height="1" fill="#607a9c"/><rect x="9" y="49" width="1" height="1" fill="#607a9c"/><rect x="0" y="52" width="1" height="1" fill="#607a9c"/><rect x="27" y="17" width="1" height="1" fill="#607a9c"/><rect x="15" y="38" width="1" height="1" fill="#607a9c"/><rect x="23" y="24" width="1" height="1" fill="#607a9c"/><rect x="22" y="50" width="1" height="1" fill="#607a9c"/><rect x="13" y="25" width="1" height="1" fill="#607a9c"/><rect x="23" y="51" width="1" height="1" fill="#607a9c"/><rect x="18" y="28" width="1" height="1" fill="#607a9c"/><rect x="4" y="23" width="1" height="1" fill="#607a9c"/><rect x="3" y="2" width="1" height="1" fill="#607a9c"/><rect x="4" y="31" width="1" height="1" fill="#607a9c"/><rect x="6" y="16" width="1" height="1" fill="#607a9c"/><rect x="21" y="27" width="1" height="1" fill="#607a9c"/><rect x="24" y="40" width="1" height="1" fill="#607a9c"/><rect x="27" y="19" width="1" height="1" fill="#607a9c"/><rect x="13" y="32" width="1" height="1" fill="#607a9c"/><rect x="26" y="24" width="1" height="1" fill="#607a9c"/><rect x="18" y="22" width="1" height="1" fill="#607a9c"/><rect x="17" y="37" width="1" height="1" fill="#607a9c"/><rect x="13" y="37" width="1" height="1" fill="#607a9c"/><rect x="7" y="21" width="1" height="1" fill="#607a9c"/><rect x="21" y="1" width="1" height="1" fill="#607a9c"/><rect x="27" y="17" width="1" height="1" fill="#607a9c"/><rect x="19" y="42" width="1" height="1" fill="#607a9c"/><rect x="22" y="10" width="1" height="1" fill="#607a9c"/><rect x="22" y="20" width="1" height="1" fill="#607a9c"/><rect x="17" y="36" width="1" height="1" fill="#607a9c"/><rect x="18" y="6" width="1" height="1" fill="#607a9c"/><rect x="22" y="41" width="1" height="1" fill="#607a9c"/><rect x="6" y="40" width="1" height="1" fill="#607a9c"/><rect x="26" y="36" width="1" height="1" fill="#607a9c"/><rect x="8" y="18" width="1" height="1" fill="#607a9c"/><rect x="3" y="4" width="1" height="1" fill="#607a9c"/><rect x="15" y="40" width="1" height="1" fill="#607a9c"/><rect x="15" y="5" width="1" height="1" fill="#607a9c"/><rect x="11" y="51" width="1" height="1" fill="#607a9c"/><rect x="2" y="26" width="1" height="1" fill="#607a9c"/><rect x="28" y="9" width="1" height="1" fill="#607a9c"/><rect x="0" y="18" width="1" height="1" fill="#607a9c"/><rect x="13" y="49" width="1" height="1" fill="#607a9c"/><rect x="13" y="7" width="1" height="1" fill="#607a9c"/><rect x="1" y="38" width="1" height="1" fill="#607a9c"/><rect x="19" y="48" width="1" height="1" fill="#607a9c"/><rect x="1" y="24" width="1" height="1" fill="#607a9c"/><rect x="22" y="37" width="1" height="1" fill="#607a9c"/><rect x="10" y="35" width="1" height="1" fill="#607a9c"/><rect x="28" y="17" width="1" height="1" fill="#607a9c"/><rect x="16" y="15" width="1" height="1" fill="#607a9c"/><rect x="1" y="19" width="1" height="1" fill="#607a9c"/><rect x="0" y="4" width="1" height="1" fill="#607a9c"/><rect x="3" y="38" width="1" height="1" fill="#607a9c"/><rect x="17" y="2" width="1" height="1" fill="#607a9c"/><rect x="6" y="26" width="1" height="1" fill="#607a9c"/><rect x="9" y="39" width="1" height="1" fill="#607a9c"/><rect x="8" y="9" width="1" height="1" fill="#607a9c"/><rect x="22" y="2" width="1" height="1" fill="#607a9c"/><rect x="27" y="21" width="1" height="1" fill="#607a9c"/><rect x="10" y="23" width="1" height="1" fill="#607a9c"/><rect x="4" y="24" width="1" height="1" fill="#607a9c"/><rect x="12" y="29" width="1" height="1" fill="#607a9c"/><rect x="27" y="33" width="1" height="1" fill="#607a9c"/><rect x="12" y="41" width="1" height="1" fill="#607a9c"/><rect x="27" y="38" width="1" height="1" fill="#607a9c"/><rect x="21" y="35" width="1" height="1" fill="#607a9c"/><rect x="3" y="39" width="1" height="1" fill="#607a9c"/><rect x="25" y="32" width="1" height="1" fill="#607a9c"/><rect x="8" y="27" width="1" height="1" fill="#607a9c"/><rect x="20" y="46" width="1" height="1" fill="#607a9c"/><rect x="22" y="15" width="1" height="1" fill="#607a9c"/><rect x="9" y="27" width="1" height="1" fill="#607a9c"/><rect x="8" y="33" width="1" height="1" fill="#607a9c"/><rect x="9" y="35" width="1" height="1" fill="#607a9c"/><rect x="10" y="0" width="1" height="1" fill="#607a9c"/><rect x="25" y="26" width="1" height="1" fill="#607a9c"/><rect x="18" y="20" width="1" height="1" fill="#607a9c"/><rect x="0" y="24" width="1" height="1" fill="#607a9c"/><rect x="19" y="37" width="1" height="1" fill="#607a9c"/><rect x="20" y="8" width="1" height="1" fill="#607a9c"/><rect x="1" y="40" width="1" height="1" fill="#607a9c"/><rect x="20" y="21" width="1" height="1" fill="#607a9c"/><rect x="14" y="22" width="1" height="1" fill="#607a9c"/><rect x="21" y="22" width="1" height="1" fill="#607a9c"/><rect x="19" y="45" width="1" height="1" fill="#607a9c"/><rect x="8" y="47" width="1" height="1" fill="#607a9c"/><rect x="15" y="1" width="1" height="1" fill="#607a9c"/><rect x="18" y="3" width="1" height="1" fill="#607a9c"/><rect x="21" y="1" width="1" height="1" fill="#607a9c"/><rect x="11" y="16" width="1" height="1" fill="#607a9c"/><rect x="20" y="29" width="1" height="1" fill="#607a9c"/><rect x="9" y="37" width="1" height="1" fill="#607a9c"/><rect x="19" y="20" width="1" height="1" fill="#607a9c"/><rect x="5" y="23" width="1" height="1" fill="#607a9c"/><rect x="5" y="20" width="1" height="1" fill="#607a9c"/><rect x="24" y="23" width="1" height="1" fill="#607a9c"/><rect x="27" y="38" width="1" height="1" fill="#607a9c"/><rect x="8" y="19" width="1" height="1" fill="#607a9c"/><rect x="25" y="24" width="1" height="1" fill="#607a9c"/><rect x="3" y="49" width="1" height="1" fill="#607a9c"/><rect x="26" y="1" width="1" height="1" fill="#607a9c"/><rect x="18" y="43" width="1" height="1" fill="#607a9c"/><rect x="23" y="8" width="1" height="1" fill="#607a9c"/><rect x="9" y="32" width="1" height="1" fill="#607a9c"/><rect x="7" y="41" width="1" height="1" fill="#607a9c"/><rect x="25" y="17" width="1" height="1" fill="#607a9c"/><rect x="7" y="20" width="1" height="1" fill="#607a9c"/><rect x="5" y="43" width="1" height="1" fill="#607a9c"/><rect x="13" y="41" width="1" height="1" fill="#607a9c"/><rect x="22" y="6" width="1" height="1" fill="#607a9c"/><rect x="3" y="38" width="1" height="1" fill="#607a9c"/><rect x="10" y="21" width="1" height="1" fill="#607a9c"/><rect x="21" y="14" width="1" height="1" fill="#607a9c"/><rect x="14" y="51" width="1" height="1" fill="#607a9c"/><rect x="27" y="10" width="1" height="1" fill="#607a9c"/><rect x="2" y="21" width="1" height="1" fill="#607a9c"/><rect x="23" y="41" width="1" height="1" fill="#607a9c"/><rect x="6" y="36" width="1" height="1" fill="#607a9c"/><rect x="14" y="17" width="1" height="1" fill="#607a9c"/><rect x="7" y="50" width="1" height="1" fill="#607a9c"/><rect x="3" y="2" width="1" height="1" fill="#607a9c"/><rect x="16" y="12" width="1" height="1" fill="#607a9c"/><rect x="10" y="51" width="1" height="1" fill="#607a9c"/><rect x="26" y="36" width="1" height="1" fill="#607a9c"/><rect x="5" y="17" width="1" height="1" fill="#607a9c"/><rect x="10" y="51" width="1" height="1" fill="#607a9c"/><rect x="26" y="41" width="1" height="1" fill="#607a9c"/><rect x="2" y="51" width="1" height="1" fill="#607a9c"/><rect x="19" y="22" width="1" height="1" fill="#607a9c"/><rect x="18" y="8" width="1" height="1" fill="#607a9c"/><rect x="13" y="18" width="1" height="1" fill="#607a9c"/><rect x="16" y="50" width="1" height="1" fill="#607a9c"/><rect x="27" y="17" width="1" height="1" fill="#607a9c"/><rect x="14" y="22" width="1" height="1" fill="#607a9c"/><rect x="20" y="26" width="1" height="1" fill="#607a9c"/><rect x="9" y="26" width="1" height="1" fill="#607a9c"/><rect x="18" y="26" width="1" height="1" fill="#607a9c"/><rect x="1" y="26" width="1" height="1" fill="#607a9c"/><rect x="4" y="12" width="1" height="1" fill="#607a9c"/><rect x="0" y="30" width="1" height="1" fill="#607a9c"/><rect x="26" y="39" width="1" height="1" fill="#607a9c"/><rect x="16" y="27" width="1" height="1" fill="#607a9c"/><rect x="17" y="45" width="1" height="1" fill="#607a9c"/><rect x="7" y="2" width="1" height="1" fill="#607a9c"/><rect x="23" y="29" width="1" height="1" fill="#607a9c"/><rect x="26" y="48" width="1" height="1" fill="#607a9c"/><rect x="21" y="47" width="1" height="1" fill="#607a9c"/><rect x="16" y="18" width="1" height="1" fill="#607a9c"/><rect x="17" y="21" width="1" height="1" fill="#607a9c"/><rect x="28" y="14" width="1" height="1" fill="#607a9c"/><rect x="27" y="4" width="1" height="1" fill="#607a9c"/></pattern></defs>
<rect x="401.1" y="438.65" width="27.5" height="75" fill="#fff" stroke="#0b0b0b" stroke-width="2.4"/>
<rect x="469.65" y="408.7" width="27.9" height="105" fill="url(#dots)" stroke="#0b0b0b" stroke-width="2.4"/>
<line x1="414.60" y1="433.20" x2="414.60" y2="444.10" stroke="#0b0b0b" stroke-width="1.9" />
<line x1="483.60" y1="401.80" x2="483.60" y2="415.80" stroke="#0b0b0b" stroke-width="1.9" />
<line x1="420.30" y1="380.50" x2="477.20" y2="380.50" stroke="#0b0b0b" stroke-width="2.0" />
<text x="449.9" y="376.0" font-size="19" font-weight="bold" text-anchor="middle" stroke="#0b0b0b" stroke-width="0.22" >*</text>
<text x="418.6" y="531.6" font-size="11.4" font-weight="bold" text-anchor="middle" transform="rotate(-45 418.6 531.6)" stroke="#0b0b0b" stroke-width="0.22" >NT</text>
<text x="485.0" y="531.6" font-size="11.4" font-weight="bold" text-anchor="middle" transform="rotate(-45 485.0 531.6)" stroke="#0b0b0b" stroke-width="0.22" >NF</text>
<text x="335.6" y="437" font-size="14.6" font-weight="bold" transform="rotate(-90 335.6 437)">EC<tspan font-size="9.4" dy="2.2">50</tspan></text>
</svg>
</body></html>
